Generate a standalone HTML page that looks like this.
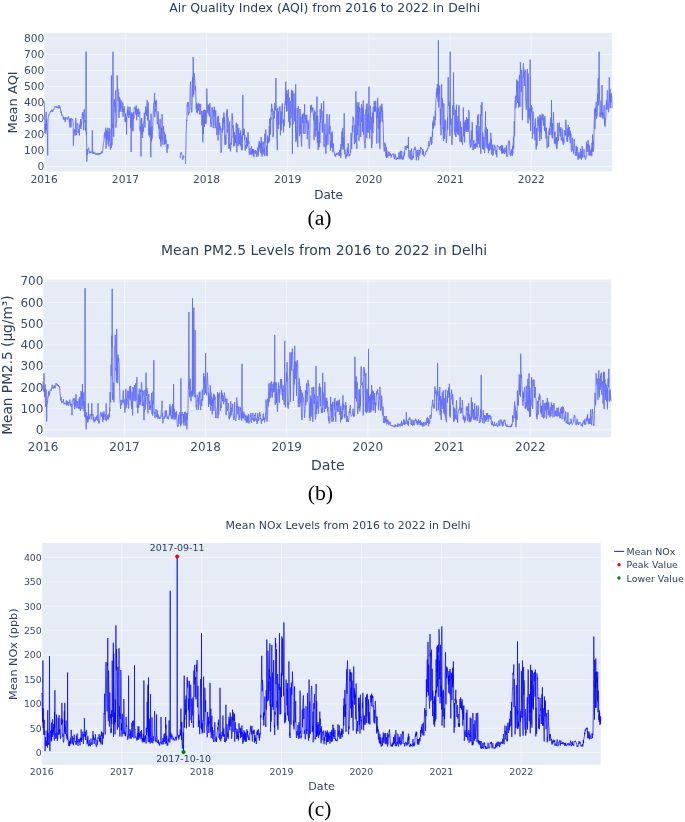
<!DOCTYPE html>
<html><head><meta charset="utf-8"><style>
html,body{margin:0;padding:0;background:#fff;}
svg{display:block;}
</style></head><body>
<svg width="685" height="822" viewBox="0 0 685 822" font-family="'DejaVu Sans', sans-serif">
<rect x="44.1" y="32.9" width="568.10" height="138.60" fill="#e5ecf6"/>
<path d="M44.10 32.9V171.5M125.45 32.9V171.5M206.57 32.9V171.5M287.70 32.9V171.5M368.82 32.9V171.5M450.17 32.9V171.5M531.30 32.9V171.5M44.1 166.50H612.2M44.1 150.51H612.2M44.1 134.52H612.2M44.1 118.53H612.2M44.1 102.54H612.2M44.1 86.55H612.2M44.1 70.56H612.2M44.1 54.57H612.2M44.1 38.58H612.2" stroke="#fff" stroke-opacity="0.5" stroke-width="1" fill="none"/>
<path d="M44.1 100.8L44.3 105.7L44.5 113.4L44.8 120.8L45.0 132.9L45.2 123.6L45.4 131.8L45.7 133.7L45.9 130.5L46.1 111.8L46.3 129.7L46.5 119.1L46.8 122.3L47.0 128.2L47.2 134.2L47.4 134.1L47.7 155.3L47.9 124.2L48.1 118.2L48.3 117.9L48.5 116.5L48.8 114.5L49.0 114.3L49.2 114.6L49.4 114.4L49.7 113.6L49.9 112.3L50.1 112.4L50.3 112.4L50.5 111.4L50.8 112.0L51.0 111.8L51.2 110.6L51.4 110.2L51.7 110.2L51.9 109.7L52.1 112.0L52.3 110.4L52.5 110.9L52.8 111.4L53.0 110.5L53.2 109.2L53.4 109.4L53.7 109.9L53.9 109.3L54.1 108.8L54.3 107.4L54.5 107.0L54.8 107.0L55.0 106.4L55.2 106.7L55.4 107.4L55.7 106.6L55.9 106.1L56.1 106.4L56.3 107.1L56.5 106.7L56.8 108.0L57.0 107.3L57.2 106.7L57.4 107.8L57.7 107.5L57.9 107.9L58.1 106.9L58.3 108.2L58.5 108.3L58.8 107.4L59.0 105.1L59.2 108.2L59.4 108.1L59.7 107.5L59.9 107.8L60.1 106.5L60.3 108.9L60.5 109.2L60.8 111.1L61.0 112.9L61.2 111.4L61.4 112.8L61.7 115.5L61.9 114.0L62.1 114.5L62.3 115.3L62.5 115.7L62.8 116.0L63.0 116.9L63.2 118.3L63.4 119.3L63.7 116.8L63.9 119.4L64.1 119.8L64.3 119.7L64.5 118.6L64.8 117.4L65.0 120.1L65.2 122.1L65.4 121.1L65.7 117.7L65.9 117.2L66.1 117.4L66.3 118.1L66.5 117.9L66.8 118.5L67.0 117.6L67.2 119.6L67.4 118.8L67.7 119.2L67.9 118.2L68.1 118.2L68.3 116.7L68.5 116.6L68.8 116.7L69.0 118.9L69.2 120.5L69.4 122.7L69.7 119.0L69.9 127.4L70.1 120.1L70.3 118.2L70.5 123.1L70.8 126.2L71.0 127.3L71.2 125.4L71.4 119.9L71.7 118.3L71.9 119.4L72.1 119.3L72.3 120.1L72.5 119.4L72.8 120.9L73.0 121.8L73.2 126.5L73.4 145.7L73.7 136.3L73.9 129.9L74.1 129.5L74.3 131.2L74.5 133.2L74.8 129.6L75.0 133.1L75.2 135.6L75.4 130.1L75.7 118.2L75.9 120.7L76.1 125.7L76.3 131.9L76.6 135.0L76.8 129.9L77.0 123.6L77.2 124.5L77.4 123.2L77.7 123.6L77.9 123.7L78.1 132.8L78.3 132.6L78.6 129.4L78.8 132.2L79.0 132.3L79.2 133.9L79.4 135.4L79.7 124.6L79.9 127.3L80.1 127.3L80.3 121.9L80.6 119.9L80.8 119.0L81.0 129.0L81.2 121.7L81.4 125.4L81.7 123.6L81.9 118.9L82.1 115.4L82.3 113.8L82.6 115.6L82.8 112.1L83.0 115.8L83.2 118.8L83.4 115.3L83.7 130.2L83.9 110.5L84.1 110.4L84.3 109.3L84.6 112.8L84.8 119.8L85.0 122.3L85.2 120.2L85.4 130.0L85.7 128.2L85.9 131.3L86.1 51.4L86.3 134.7L86.6 131.9L86.8 161.5L87.0 149.0L87.2 151.9L87.4 154.8L87.7 153.4L87.9 149.6L88.1 149.8L88.3 149.1L88.6 147.7L88.8 148.7L89.0 149.6L89.2 150.8L89.4 153.2L89.7 151.7L89.9 153.2L90.1 152.2L90.3 153.0L90.6 151.3L90.8 151.6L91.0 152.4L91.2 151.9L91.4 152.5L91.7 152.5L91.9 152.3L92.1 152.3L92.3 130.5L92.6 153.1L92.8 152.9L93.0 153.9L93.2 153.6L93.4 153.8L93.7 152.5L93.9 151.7L94.1 153.4L94.3 152.9L94.6 152.9L94.8 153.6L95.0 152.7L95.2 153.2L95.4 154.3L95.7 154.1L95.9 153.9L96.1 154.8L96.3 154.4L96.6 153.5L96.8 153.0L97.0 154.2L97.2 154.6L97.4 154.4L97.7 154.7L97.9 153.1L98.1 153.3L98.3 154.6L98.6 155.2L98.8 155.0L99.0 153.1L99.2 153.8L99.4 154.1L99.7 154.0L99.9 154.4L100.1 153.1L100.3 153.6L100.6 153.1L100.8 153.0L101.0 152.6L101.2 153.7L101.4 151.8L101.7 152.0L101.9 151.2L102.1 152.7L102.3 152.8L102.6 151.5L102.8 149.5L103.0 147.6L103.2 145.1L103.4 143.4L103.7 143.3L103.9 140.7L104.1 139.1L104.3 134.6L104.6 135.3L104.8 132.3L105.0 132.9L105.2 138.3L105.4 134.4L105.7 127.7L105.9 131.9L106.1 148.6L106.3 138.2L106.6 130.2L106.8 144.6L107.0 140.6L107.2 130.9L107.4 139.7L107.7 128.1L107.9 127.8L108.1 135.7L108.3 135.2L108.6 145.8L108.8 146.3L109.0 131.4L109.2 141.7L109.4 128.1L109.7 133.1L109.9 129.4L110.1 133.5L110.3 149.7L110.6 149.3L110.8 143.3L111.0 146.3L111.2 148.0L111.4 75.5L111.7 138.7L111.9 145.5L112.1 143.3L112.3 124.1L112.6 127.9L112.8 107.3L113.0 51.7L113.2 98.3L113.4 120.9L113.7 136.6L113.9 128.3L114.1 106.7L114.3 104.2L114.6 99.5L114.8 107.1L115.0 103.0L115.2 110.3L115.4 112.5L115.7 90.4L115.9 127.7L116.1 123.2L116.3 123.0L116.6 121.3L116.8 108.2L117.0 105.1L117.2 75.5L117.4 81.2L117.7 91.7L117.9 88.9L118.1 90.7L118.3 100.8L118.6 92.2L118.8 102.3L119.0 117.9L119.2 110.2L119.4 111.3L119.7 97.5L119.9 104.1L120.1 111.7L120.3 99.7L120.6 108.9L120.8 107.0L121.0 100.3L121.2 103.2L121.4 106.5L121.7 108.0L121.9 105.9L122.1 112.1L122.3 109.1L122.6 107.5L122.8 102.3L123.0 116.8L123.2 112.7L123.4 108.8L123.7 112.6L123.9 111.1L124.1 111.2L124.3 106.1L124.6 112.4L124.8 113.4L125.0 121.8L125.2 121.9L125.4 113.4L125.7 117.1L125.9 119.3L126.1 122.1L126.3 117.3L126.6 134.5L126.8 121.1L127.0 115.6L127.2 113.7L127.4 109.7L127.7 116.0L127.9 106.4L128.1 107.6L128.3 111.1L128.6 116.2L128.8 118.0L129.0 111.7L129.2 115.0L129.4 109.7L129.7 109.3L129.9 106.9L130.1 107.2L130.3 110.2L130.6 127.6L130.8 120.8L131.0 113.6L131.2 151.9L131.4 112.4L131.7 116.5L131.9 121.1L132.1 129.8L132.3 113.5L132.6 114.0L132.8 118.6L133.0 131.3L133.2 127.7L133.4 112.5L133.7 111.9L133.9 118.4L134.1 110.2L134.3 107.5L134.6 107.2L134.8 107.4L135.0 106.7L135.2 107.6L135.4 107.6L135.7 114.3L135.9 108.1L136.1 109.8L136.3 105.5L136.6 120.2L136.8 113.7L137.0 109.5L137.2 114.1L137.4 112.3L137.7 109.7L137.9 109.2L138.1 115.3L138.3 117.0L138.6 111.4L138.8 108.6L139.0 111.3L139.2 113.4L139.5 114.3L139.7 111.9L139.9 119.8L140.1 131.3L140.3 125.9L140.6 132.9L140.8 133.1L141.0 156.3L141.2 118.7L141.5 130.0L141.7 118.0L141.9 134.5L142.1 123.8L142.3 135.5L142.6 137.9L142.8 127.1L143.0 128.0L143.2 131.8L143.5 131.1L143.7 121.7L143.9 121.0L144.1 120.4L144.3 112.9L144.6 120.1L144.8 124.6L145.0 127.6L145.2 114.0L145.5 109.6L145.7 106.4L145.9 109.9L146.1 114.0L146.3 109.6L146.6 115.8L146.8 110.3L147.0 108.1L147.2 100.1L147.5 119.0L147.7 120.5L147.9 107.2L148.1 102.5L148.3 106.0L148.6 110.1L148.8 135.4L149.0 128.1L149.2 125.2L149.5 134.7L149.7 120.4L149.9 137.2L150.1 134.0L150.3 127.7L150.6 138.2L150.8 157.2L151.0 113.7L151.2 131.3L151.5 141.6L151.7 128.6L151.9 126.4L152.1 138.6L152.3 135.5L152.6 131.2L152.8 128.8L153.0 116.9L153.2 114.9L153.5 105.4L153.7 103.3L153.9 103.8L154.1 102.7L154.3 101.1L154.6 93.1L154.8 117.3L155.0 109.1L155.2 111.9L155.5 100.9L155.7 105.0L155.9 104.5L156.1 106.6L156.3 99.9L156.6 105.2L156.8 114.2L157.0 114.9L157.2 123.5L157.5 122.7L157.7 124.3L157.9 122.9L158.1 111.3L158.3 120.0L158.6 123.7L158.8 128.5L159.0 124.2L159.2 136.1L159.5 139.0L159.7 137.6L159.9 133.2L160.1 118.8L160.3 137.8L160.6 141.7L160.8 136.4L161.0 146.5L161.2 127.7L161.5 129.6L161.7 129.1L161.9 138.6L162.1 114.2L162.3 140.5L162.6 137.2L162.8 137.5L163.0 144.9L163.2 134.6L163.5 126.0L163.7 131.8L163.9 132.3L164.1 133.6L164.3 131.9L164.6 144.5L164.8 133.9L165.0 139.9L165.2 134.4L165.5 137.3L165.7 142.1L165.9 143.8L166.1 139.7L166.3 146.2L166.6 147.7L166.8 149.1L167.0 152.9L167.2 146.9L167.5 145.1L167.7 146.7L167.9 144.1L168.1 149.0M180.1 158.3L180.3 154.9L180.6 153.0L180.8 153.4L181.0 153.5L181.2 152.3L181.5 152.3L181.7 154.2L181.9 154.9L182.1 155.8L182.3 156.4L182.6 159.8L182.8 157.8L183.0 158.5L183.2 157.6L183.5 157.6L183.7 155.5L183.9 157.6M185.5 164.0L185.7 155.6L185.9 148.2L186.1 136.8L186.3 130.5L186.6 119.9L186.8 120.9L187.0 117.2L187.2 103.8L187.5 102.8L187.7 103.0L187.9 106.9L188.1 102.0L188.3 112.8L188.6 115.3L188.8 111.9L189.0 112.9L189.2 112.9L189.5 109.7L189.7 107.9L189.9 107.2L190.1 90.0L190.3 85.6L190.6 81.7L190.8 86.9L191.0 98.4L191.2 109.1L191.5 108.3L191.7 112.3L191.9 111.2L192.1 105.2L192.3 82.4L192.6 77.1L192.8 97.1L193.0 89.7L193.2 57.0L193.5 88.9L193.7 94.6L193.9 85.1L194.1 73.0L194.3 76.0L194.6 75.9L194.8 80.7L195.0 89.6L195.2 90.5L195.5 85.8L195.7 93.9L195.9 97.7L196.1 109.3L196.3 108.7L196.6 102.8L196.8 112.2L197.0 108.2L197.2 113.3L197.5 109.3L197.7 104.9L197.9 103.8L198.1 104.1L198.3 110.7L198.6 103.1L198.8 104.6L199.0 106.1L199.2 104.3L199.5 114.3L199.7 112.4L199.9 111.3L200.1 108.1L200.3 103.9L200.6 104.2L200.8 114.0L201.0 114.7L201.2 112.4L201.5 111.2L201.7 119.9L201.9 125.3L202.1 119.8L202.4 115.2L202.6 115.4L202.8 142.2L203.0 110.8L203.2 134.1L203.5 132.9L203.7 110.2L203.9 114.7L204.1 114.0L204.4 127.0L204.6 109.8L204.8 124.2L205.0 117.4L205.2 114.1L205.5 123.6L205.7 110.4L205.9 123.3L206.1 123.5L206.4 118.4L206.6 117.9L206.8 88.6L207.0 101.0L207.2 105.2L207.5 109.8L207.7 112.3L207.9 113.2L208.1 104.5L208.4 107.7L208.6 105.0L208.8 107.4L209.0 115.1L209.2 106.5L209.5 116.3L209.7 114.4L209.9 103.2L210.1 114.6L210.4 114.4L210.6 123.9L210.8 123.5L211.0 126.9L211.2 125.2L211.5 124.6L211.7 120.5L211.9 107.7L212.1 108.7L212.4 107.3L212.6 110.7L212.8 114.5L213.0 121.1L213.2 128.1L213.5 124.6L213.7 110.5L213.9 109.9L214.1 116.6L214.4 106.8L214.6 113.3L214.8 119.7L215.0 126.3L215.2 128.2L215.5 126.4L215.7 110.4L215.9 115.4L216.1 125.1L216.4 127.9L216.6 127.3L216.8 135.0L217.0 131.2L217.2 122.4L217.5 120.1L217.7 116.6L217.9 131.3L218.1 140.5L218.4 124.9L218.6 115.9L218.8 134.7L219.0 129.7L219.2 128.5L219.5 122.7L219.7 122.9L219.9 130.6L220.1 127.5L220.4 126.2L220.6 127.5L220.8 146.2L221.0 152.7L221.2 151.6L221.5 152.2L221.7 146.7L221.9 133.5L222.1 128.3L222.4 132.8L222.6 130.3L222.8 118.4L223.0 129.5L223.2 120.1L223.5 117.3L223.7 119.1L223.9 112.5L224.1 123.5L224.4 117.2L224.6 130.9L224.8 138.7L225.0 144.8L225.2 134.8L225.5 142.2L225.7 136.9L225.9 144.7L226.1 127.6L226.4 113.3L226.6 116.5L226.8 111.2L227.0 112.9L227.2 109.2L227.5 112.6L227.7 132.7L227.9 117.3L228.1 122.8L228.4 136.7L228.6 140.8L228.8 148.8L229.0 144.7L229.2 147.6L229.5 126.7L229.7 121.5L229.9 142.0L230.1 148.7L230.4 147.1L230.6 151.4L230.8 147.5L231.0 142.6L231.2 144.8L231.5 144.4L231.7 134.5L231.9 119.1L232.1 113.4L232.4 118.1L232.6 116.3L232.8 128.2L233.0 125.3L233.2 137.9L233.5 127.8L233.7 142.1L233.9 146.4L234.1 141.8L234.4 132.5L234.6 146.0L234.8 145.8L235.0 140.2L235.2 135.1L235.5 142.7L235.7 138.4L235.9 139.3L236.1 123.5L236.4 122.7L236.6 140.2L236.8 152.2L237.0 147.1L237.2 131.2L237.5 130.9L237.7 124.2L237.9 133.1L238.1 146.1L238.4 135.3L238.6 134.4L238.8 128.0L239.0 144.1L239.2 139.4L239.5 143.6L239.7 133.0L239.9 139.9L240.1 143.8L240.4 145.7L240.6 130.4L240.8 132.7L241.0 141.6L241.2 147.6L241.5 150.2L241.7 135.5L241.9 149.3L242.1 150.2L242.4 143.6L242.6 134.2L242.8 94.9L243.0 135.2L243.2 133.4L243.5 131.5L243.7 134.9L243.9 128.8L244.1 132.6L244.4 129.8L244.6 140.0L244.8 135.0L245.0 145.9L245.2 150.6L245.5 146.3L245.7 148.7L245.9 144.8L246.1 148.9L246.4 137.3L246.6 139.7L246.8 147.5L247.0 145.4L247.2 138.8L247.5 145.8L247.7 141.7L247.9 132.0L248.1 132.7L248.4 136.8L248.6 143.9L248.8 141.4L249.0 150.5L249.2 154.6L249.5 154.4L249.7 154.6L249.9 148.1L250.1 148.1L250.4 154.0L250.6 154.3L250.8 152.1L251.0 154.0L251.2 154.6L251.5 146.2L251.7 153.6L251.9 153.5L252.1 153.3L252.4 150.5L252.6 149.2L252.8 153.7L253.0 149.2L253.2 155.9L253.5 149.4L253.7 151.8L253.9 157.2L254.1 151.8L254.4 152.1L254.6 150.7L254.8 150.4L255.0 153.8L255.2 153.8L255.5 151.5L255.7 150.2L255.9 151.9L256.1 153.1L256.4 153.4L256.6 155.6L256.8 156.8L257.0 150.7L257.2 152.9L257.5 152.0L257.7 154.3L257.9 147.5L258.1 156.4L258.4 145.7L258.6 145.0L258.8 151.4L259.0 142.3L259.2 141.2L259.5 148.5L259.7 142.1L259.9 142.7L260.1 142.9L260.4 143.5L260.6 150.8L260.8 153.2L261.0 148.4L261.2 137.0L261.5 154.2L261.7 141.3L261.9 156.7L262.1 156.6L262.4 153.9L262.6 148.9L262.8 143.2L263.0 144.3L263.2 141.7L263.5 153.5L263.7 153.9L263.9 154.4L264.1 152.8L264.4 147.7L264.6 156.1L264.8 133.8L265.0 143.2L265.3 140.0L265.5 133.6L265.7 129.6L265.9 130.6L266.1 155.1L266.4 155.6L266.6 145.7L266.8 149.9L267.0 152.6L267.3 156.1L267.5 144.1L267.7 135.7L267.9 142.7L268.1 140.1L268.4 138.1L268.6 143.1L268.8 140.3L269.0 133.9L269.3 125.9L269.5 141.4L269.7 118.7L269.9 124.0L270.1 119.7L270.4 125.5L270.6 134.5L270.8 117.2L271.0 119.9L271.3 109.9L271.5 111.4L271.7 103.8L271.9 110.9L272.1 108.8L272.4 110.2L272.6 108.9L272.8 117.1L273.0 137.1L273.3 133.1L273.5 135.2L273.7 115.7L273.9 110.9L274.1 118.7L274.4 114.8L274.6 105.4L274.8 103.2L275.0 104.2L275.3 104.6L275.5 108.3L275.7 110.3L275.9 78.1L276.1 110.0L276.4 109.3L276.6 124.0L276.8 136.5L277.0 139.2L277.3 150.2L277.5 112.6L277.7 107.9L277.9 116.0L278.1 128.9L278.4 115.5L278.6 111.7L278.8 124.7L279.0 111.5L279.3 111.3L279.5 106.9L279.7 107.6L279.9 106.4L280.1 107.3L280.4 135.2L280.6 116.5L280.8 122.0L281.0 111.4L281.3 121.4L281.5 130.3L281.7 118.6L281.9 108.6L282.1 104.3L282.4 103.4L282.6 114.6L282.8 121.2L283.0 123.4L283.3 119.7L283.5 132.4L283.7 127.4L283.9 119.8L284.1 126.0L284.4 120.2L284.6 107.4L284.8 108.3L285.0 102.5L285.3 99.6L285.5 100.0L285.7 81.8L285.9 105.3L286.1 97.3L286.4 103.7L286.6 111.7L286.8 90.3L287.0 110.7L287.3 103.1L287.5 93.9L287.7 96.0L287.9 97.0L288.1 91.2L288.4 89.7L288.6 110.8L288.8 121.8L289.0 99.8L289.3 97.4L289.5 123.3L289.7 127.9L289.9 121.3L290.1 125.3L290.4 112.6L290.6 108.0L290.8 100.9L291.0 118.2L291.3 103.8L291.5 89.8L291.7 100.7L291.9 92.3L292.1 90.7L292.4 153.7L292.6 96.2L292.8 90.8L293.0 124.1L293.3 105.1L293.5 97.7L293.7 93.5L293.9 93.3L294.1 93.7L294.4 101.9L294.6 121.4L294.8 114.4L295.0 108.4L295.3 109.8L295.5 132.7L295.7 84.3L295.9 141.9L296.1 133.3L296.4 139.6L296.6 134.9L296.8 124.7L297.0 121.0L297.3 108.1L297.5 125.7L297.7 147.2L297.9 129.5L298.1 112.0L298.4 106.0L298.6 108.9L298.8 109.4L299.0 112.9L299.3 132.6L299.5 136.2L299.7 124.2L299.9 131.7L300.1 109.0L300.4 131.6L300.6 134.0L300.8 116.4L301.0 126.1L301.3 139.4L301.5 146.4L301.7 145.6L301.9 119.6L302.1 116.6L302.4 114.0L302.6 122.9L302.8 114.2L303.0 116.4L303.3 130.5L303.5 133.6L303.7 126.5L303.9 112.8L304.1 117.1L304.4 114.4L304.6 104.4L304.8 115.4L305.0 133.9L305.3 117.6L305.5 115.2L305.7 119.1L305.9 117.8L306.1 123.2L306.4 117.5L306.6 123.0L306.8 114.7L307.0 132.4L307.3 139.2L307.5 131.3L307.7 134.3L307.9 120.2L308.1 121.3L308.4 129.3L308.6 122.8L308.8 130.5L309.0 146.1L309.3 148.9L309.5 148.3L309.7 145.2L309.9 136.0L310.1 118.2L310.4 114.5L310.6 106.2L310.8 105.1L311.0 110.1L311.3 105.4L311.5 104.9L311.7 111.4L311.9 112.4L312.1 108.0L312.4 110.5L312.6 107.5L312.8 109.1L313.0 108.4L313.3 115.2L313.5 114.1L313.7 120.4L313.9 114.3L314.1 139.9L314.4 127.6L314.6 111.9L314.8 110.5L315.0 114.6L315.3 112.3L315.5 125.5L315.7 136.7L315.9 136.1L316.1 132.7L316.4 116.0L316.6 130.5L316.8 114.8L317.0 96.6L317.3 143.0L317.5 136.0L317.7 115.4L317.9 125.6L318.1 149.9L318.4 136.6L318.6 131.6L318.8 142.8L319.0 147.3L319.3 146.8L319.5 137.8L319.7 122.7L319.9 143.2L320.1 109.2L320.4 114.6L320.6 122.7L320.8 115.6L321.0 117.8L321.3 103.4L321.5 103.4L321.7 111.3L321.9 120.7L322.1 129.3L322.4 132.7L322.6 121.1L322.8 131.8L323.0 111.0L323.3 117.2L323.5 122.6L323.7 100.9L323.9 143.3L324.1 147.2L324.4 133.0L324.6 130.7L324.8 129.7L325.0 123.7L325.3 133.7L325.5 134.0L325.7 147.0L325.9 153.7L326.1 135.2L326.4 143.9L326.6 146.2L326.8 124.2L327.0 114.0L327.3 127.8L327.5 136.1L327.7 135.8L327.9 144.7L328.2 134.7L328.4 132.7L328.6 131.9L328.8 124.8L329.0 117.4L329.3 115.1L329.5 114.4L329.7 134.4L329.9 125.9L330.2 141.8L330.4 150.8L330.6 140.7L330.8 145.7L331.0 145.6L331.3 132.7L331.5 142.0L331.7 147.9L331.9 142.6L332.2 131.6L332.4 133.5L332.6 149.7L332.8 152.2L333.0 151.9L333.3 143.6L333.5 145.8L333.7 148.6L333.9 151.5L334.2 153.6L334.4 153.6L334.6 153.5L334.8 155.8L335.0 155.6L335.3 154.6L335.5 156.6L335.7 154.8L335.9 153.8L336.2 153.1L336.4 155.0L336.6 154.9L336.8 153.1L337.0 153.0L337.3 154.9L337.5 154.7L337.7 153.1L337.9 153.9L338.2 153.9L338.4 152.2L338.6 152.9L338.8 153.8L339.0 155.9L339.3 156.1L339.5 150.2L339.7 150.6L339.9 154.6L340.2 155.5L340.4 153.4L340.6 147.2L340.8 157.8L341.0 143.9L341.3 148.5L341.5 143.5L341.7 137.0L341.9 131.4L342.2 142.2L342.4 146.1L342.6 140.1L342.8 127.9L343.0 149.9L343.3 145.3L343.5 137.4L343.7 143.0L343.9 148.2L344.2 113.3L344.4 154.0L344.6 154.1L344.8 151.4L345.0 149.5L345.3 155.2L345.5 155.2L345.7 158.7L345.9 155.1L346.2 155.8L346.4 153.9L346.6 156.7L346.8 155.6L347.0 153.2L347.3 147.6L347.5 155.6L347.7 151.1L347.9 153.0L348.2 143.4L348.4 153.3L348.6 154.3L348.8 154.9L349.0 156.4L349.3 154.8L349.5 154.3L349.7 154.6L349.9 155.3L350.2 154.0L350.4 149.5L350.6 152.7L350.8 140.8L351.0 132.9L351.3 133.9L351.5 141.7L351.7 148.9L351.9 140.1L352.2 134.8L352.4 125.6L352.6 130.7L352.8 131.9L353.0 116.7L353.3 118.9L353.5 120.7L353.7 118.6L353.9 122.7L354.2 125.6L354.4 144.0L354.6 144.2L354.8 125.0L355.0 136.7L355.3 142.5L355.5 130.5L355.7 127.2L355.9 91.3L356.2 131.5L356.4 141.7L356.6 142.6L356.8 148.8L357.0 102.2L357.3 135.1L357.5 126.4L357.7 116.4L357.9 105.7L358.2 109.7L358.4 122.8L358.6 125.5L358.8 102.3L359.0 140.8L359.3 107.0L359.5 111.3L359.7 110.4L359.9 108.2L360.2 111.1L360.4 114.5L360.6 128.9L360.8 137.0L361.0 122.5L361.3 110.3L361.5 104.4L361.7 107.9L361.9 122.0L362.2 111.2L362.4 107.4L362.6 132.1L362.8 113.0L363.0 108.7L363.3 100.3L363.5 113.7L363.7 134.6L363.9 114.2L364.2 140.5L364.4 140.6L364.6 143.4L364.8 144.3L365.0 148.2L365.3 143.4L365.5 120.8L365.7 112.4L365.9 109.6L366.2 114.6L366.4 104.1L366.6 104.2L366.8 138.3L367.0 103.5L367.3 113.6L367.5 132.1L367.7 120.1L367.9 114.6L368.2 132.8L368.4 123.5L368.6 106.2L368.8 104.7L369.0 86.6L369.3 117.7L369.5 128.2L369.7 138.7L369.9 129.0L370.2 107.2L370.4 105.7L370.6 109.6L370.8 129.3L371.0 116.7L371.3 120.6L371.5 143.3L371.7 148.1L371.9 143.8L372.2 144.1L372.4 112.6L372.6 113.9L372.8 131.0L373.0 132.9L373.3 106.9L373.5 123.1L373.7 111.3L373.9 109.3L374.2 101.1L374.4 102.7L374.6 111.4L374.8 108.9L375.0 111.8L375.3 105.8L375.5 110.8L375.7 100.8L375.9 106.3L376.2 107.1L376.4 117.6L376.6 116.8L376.8 143.4L377.0 116.2L377.3 108.8L377.5 118.0L377.7 97.8L377.9 112.7L378.2 118.3L378.4 128.5L378.6 111.5L378.8 107.6L379.0 142.8L379.3 139.6L379.5 121.6L379.7 112.0L379.9 148.7L380.2 105.8L380.4 118.9L380.6 122.6L380.8 120.1L381.0 120.4L381.3 111.9L381.5 106.1L381.7 111.5L381.9 103.7L382.2 115.7L382.4 121.7L382.6 110.8L382.8 119.2L383.0 119.9L383.3 131.9L383.5 140.4L383.7 145.5L383.9 147.8L384.2 151.4L384.4 151.1L384.6 146.8L384.8 142.6L385.0 145.4L385.3 145.0L385.5 144.4L385.7 152.0L385.9 156.5L386.2 149.6L386.4 147.2L386.6 158.0L386.8 150.1L387.0 153.9L387.3 156.9L387.5 155.0L387.7 157.4L387.9 154.2L388.2 155.8L388.4 154.4L388.6 151.9L388.8 151.5L389.0 152.5L389.3 152.3L389.5 154.5L389.7 155.9L389.9 154.8L390.2 153.4L390.4 154.8L390.6 154.4L390.8 154.8L391.0 157.6L391.3 157.2L391.5 154.6L391.7 155.3L391.9 155.2L392.2 154.7L392.4 154.0L392.6 154.7L392.8 154.0L393.1 153.7L393.3 153.6L393.5 154.5L393.7 155.8L393.9 157.5L394.2 158.6L394.4 159.0L394.6 156.1L394.8 154.2L395.1 153.8L395.3 154.7L395.5 157.6L395.7 157.7L395.9 158.9L396.2 160.0L396.4 158.9L396.6 157.8L396.8 158.0L397.1 159.1L397.3 159.1L397.5 158.4L397.7 158.6L397.9 157.3L398.2 159.0L398.4 157.6L398.6 155.9L398.8 153.4L399.1 152.4L399.3 153.1L399.5 155.7L399.7 159.3L399.9 158.2L400.2 153.6L400.4 150.8L400.6 158.5L400.8 158.9L401.1 158.5L401.3 159.2L401.5 157.8L401.7 151.1L401.9 157.6L402.2 156.9L402.4 159.3L402.6 159.6L402.8 159.6L403.1 156.5L403.3 159.3L403.5 158.5L403.7 155.5L403.9 155.6L404.2 151.6L404.4 155.9L404.6 153.8L404.8 150.3L405.1 146.1L405.3 146.7L405.5 146.1L405.7 148.1L405.9 150.1L406.2 147.0L406.4 147.7L406.6 146.5L406.8 147.0L407.1 145.6L407.3 145.2L407.5 147.9L407.7 146.0L407.9 147.1L408.2 148.0L408.4 136.9L408.6 149.4L408.8 156.2L409.1 157.6L409.3 158.4L409.5 156.6L409.7 152.1L409.9 150.1L410.2 150.4L410.4 155.0L410.6 159.0L410.8 156.9L411.1 160.2L411.3 154.1L411.5 148.7L411.7 151.6L411.9 153.9L412.2 159.5L412.4 157.1L412.6 156.5L412.8 157.7L413.1 155.8L413.3 158.0L413.5 158.2L413.7 150.0L413.9 149.2L414.2 148.4L414.4 148.3L414.6 148.6L414.8 150.0L415.1 146.7L415.3 148.7L415.5 148.6L415.7 151.4L415.9 154.4L416.2 159.7L416.4 160.3L416.6 156.4L416.8 150.3L417.1 153.8L417.3 154.5L417.5 152.2L417.7 156.7L417.9 149.8L418.2 155.7L418.4 157.3L418.6 160.3L418.8 156.4L419.1 155.7L419.3 149.8L419.5 155.5L419.7 154.0L419.9 154.1L420.2 153.7L420.4 148.3L420.6 147.1L420.8 147.2L421.1 149.2L421.3 148.8L421.5 148.0L421.7 148.6L421.9 149.1L422.2 149.6L422.4 154.5L422.6 153.6L422.8 149.1L423.1 154.3L423.3 154.0L423.5 151.2L423.7 155.8L423.9 155.3L424.2 156.5L424.4 156.0L424.6 156.0L424.8 155.6L425.1 154.8L425.3 154.0L425.5 153.2L425.7 154.2L425.9 151.2L426.2 151.1L426.4 152.0L426.6 151.7L426.8 150.2L427.1 150.8L427.3 150.3L427.5 149.9L427.7 148.1L427.9 148.7L428.2 147.1L428.4 145.2L428.6 146.1L428.8 141.0L429.1 142.3L429.3 146.2L429.5 144.9L429.7 144.2L429.9 144.0L430.2 142.7L430.4 136.8L430.6 137.7L430.8 137.9L431.1 139.9L431.3 137.0L431.5 144.9L431.7 141.1L431.9 142.9L432.2 137.1L432.4 131.6L432.6 136.9L432.8 122.5L433.1 128.7L433.3 120.5L433.5 128.3L433.7 127.2L433.9 116.4L434.2 119.3L434.4 120.2L434.6 121.1L434.8 125.7L435.1 119.2L435.3 111.1L435.5 119.8L435.7 113.0L435.9 99.3L436.2 97.9L436.4 92.4L436.6 97.1L436.8 88.5L437.1 94.8L437.3 84.0L437.5 87.9L437.7 94.0L437.9 100.4L438.2 101.7L438.4 40.3L438.6 107.4L438.8 107.0L439.1 94.4L439.3 87.8L439.5 94.0L439.7 85.5L439.9 100.4L440.2 115.8L440.4 124.6L440.6 108.5L440.8 128.3L441.1 135.1L441.3 106.7L441.5 87.4L441.7 84.5L441.9 107.4L442.2 107.3L442.4 98.3L442.6 101.6L442.8 129.2L443.1 127.6L443.3 139.4L443.5 141.1L443.7 106.8L443.9 103.4L444.2 127.4L444.4 138.9L444.6 127.4L444.8 131.6L445.1 119.6L445.3 127.8L445.5 126.9L445.7 120.6L445.9 132.6L446.2 142.5L446.4 143.0L446.6 141.5L446.8 137.1L447.1 131.7L447.3 127.8L447.5 117.7L447.7 129.6L447.9 109.5L448.2 77.3L448.4 102.2L448.6 105.9L448.8 101.6L449.1 102.6L449.3 106.3L449.5 112.5L449.7 124.1L449.9 136.0L450.2 51.7L450.4 108.5L450.6 124.8L450.8 123.6L451.1 118.7L451.3 125.0L451.5 132.7L451.7 132.7L451.9 144.8L452.2 139.0L452.4 135.8L452.6 107.4L452.8 105.3L453.1 112.5L453.3 115.1L453.5 72.5L453.7 101.7L453.9 104.9L454.2 110.3L454.4 131.4L454.6 131.3L454.8 129.1L455.1 134.9L455.3 109.8L455.5 136.1L455.7 131.8L456.0 137.0L456.2 115.6L456.4 104.7L456.6 123.1L456.8 132.1L457.1 125.9L457.3 121.2L457.5 126.5L457.7 134.1L458.0 116.1L458.2 131.5L458.4 134.7L458.6 114.0L458.8 105.1L459.1 105.4L459.3 118.6L459.5 130.8L459.7 137.5L460.0 141.8L460.2 139.9L460.4 122.1L460.6 121.6L460.8 131.9L461.1 137.1L461.3 141.6L461.5 127.2L461.7 142.2L462.0 136.6L462.2 142.3L462.4 143.2L462.6 144.6L462.8 135.5L463.1 133.9L463.3 107.7L463.5 124.6L463.7 136.4L464.0 128.9L464.2 122.4L464.4 128.9L464.6 142.4L464.8 126.8L465.1 121.2L465.3 120.0L465.5 130.6L465.7 122.9L466.0 131.6L466.2 130.6L466.4 131.9L466.6 117.2L466.8 127.9L467.1 131.9L467.3 118.8L467.5 120.6L467.7 124.7L468.0 129.9L468.2 119.3L468.4 131.5L468.6 126.5L468.8 110.2L469.1 113.7L469.3 129.6L469.5 140.5L469.7 140.8L470.0 143.7L470.2 147.2L470.4 146.9L470.6 147.7L470.8 139.7L471.1 146.5L471.3 130.5L471.5 139.9L471.7 138.0L472.0 130.7L472.2 122.2L472.4 125.3L472.6 140.0L472.8 149.7L473.1 149.1L473.3 150.1L473.5 149.0L473.7 140.2L474.0 140.6L474.2 143.4L474.4 147.3L474.6 145.8L474.8 144.0L475.1 149.0L475.3 144.3L475.5 147.5L475.7 143.1L476.0 143.9L476.2 147.1L476.4 125.1L476.6 130.1L476.8 135.0L477.1 131.0L477.3 147.4L477.5 116.1L477.7 121.5L478.0 124.0L478.2 114.2L478.4 140.9L478.6 134.4L478.8 144.1L479.1 126.1L479.3 138.9L479.5 140.1L479.7 147.5L480.0 144.8L480.2 134.3L480.4 114.2L480.6 141.3L480.8 153.7L481.1 104.9L481.3 106.0L481.5 113.3L481.7 115.3L482.0 101.9L482.2 130.4L482.4 132.0L482.6 149.1L482.8 132.7L483.1 143.8L483.3 149.5L483.5 143.0L483.7 136.9L484.0 143.6L484.2 143.3L484.4 150.4L484.6 153.1L484.8 145.0L485.1 127.3L485.3 127.3L485.5 111.5L485.7 139.0L486.0 142.0L486.2 147.5L486.4 127.4L486.6 140.2L486.8 135.8L487.1 138.5L487.3 148.6L487.5 129.1L487.7 138.3L488.0 145.5L488.2 143.9L488.4 153.2L488.6 146.4L488.8 149.6L489.1 145.1L489.3 144.7L489.5 150.6L489.7 143.1L490.0 142.3L490.2 149.6L490.4 146.7L490.6 143.3L490.8 132.8L491.1 143.6L491.3 138.9L491.5 143.0L491.7 154.6L492.0 145.6L492.2 147.3L492.4 144.5L492.6 152.0L492.8 155.8L493.1 154.3L493.3 153.9L493.5 152.2L493.7 148.7L494.0 150.4L494.2 144.7L494.4 147.2L494.6 148.2L494.8 146.0L495.1 146.0L495.3 148.4L495.5 149.3L495.7 152.8L496.0 154.2L496.2 153.0L496.4 149.9L496.6 152.0L496.8 157.3L497.1 146.1L497.3 145.3L497.5 146.3L497.7 146.1L498.0 146.5L498.2 146.5L498.4 146.5L498.6 146.9L498.8 146.7L499.1 147.7L499.3 149.8L499.5 149.7L499.7 148.9L500.0 146.9L500.2 147.5L500.4 147.2L500.6 146.0L500.8 149.7L501.1 151.2L501.3 145.5L501.5 149.8L501.7 153.5L502.0 149.0L502.2 145.2L502.4 153.5L502.6 145.8L502.8 152.2L503.1 151.6L503.3 153.2L503.5 151.8L503.7 148.8L504.0 152.4L504.2 151.9L504.4 151.7L504.6 154.0L504.8 147.9L505.1 147.7L505.3 150.0L505.5 152.2L505.7 152.3L506.0 150.8L506.2 152.0L506.4 145.1L506.6 155.3L506.8 156.6L507.1 155.7L507.3 156.6L507.5 155.3L507.7 155.0L508.0 151.6L508.2 149.1L508.4 143.1L508.6 142.0L508.8 140.7L509.1 141.5L509.3 140.9L509.5 141.7L509.7 146.8L510.0 152.9L510.2 154.9L510.4 151.8L510.6 156.2L510.8 154.2L511.1 154.6L511.3 150.6L511.5 149.3L511.7 152.2L512.0 151.2L512.2 155.9L512.4 152.3L512.6 146.3L512.8 154.0L513.1 143.6L513.3 141.9L513.5 136.7L513.7 149.1L514.0 136.5L514.2 121.3L514.4 123.2L514.6 136.4L514.8 119.0L515.1 100.8L515.3 101.5L515.5 95.8L515.7 108.3L516.0 106.6L516.2 101.6L516.4 101.1L516.6 85.7L516.8 79.6L517.1 90.6L517.3 82.5L517.5 103.1L517.7 93.5L518.0 81.0L518.2 93.5L518.4 98.6L518.6 107.6L518.9 101.3L519.1 106.4L519.3 77.2L519.5 75.1L519.7 84.4L520.0 106.9L520.2 74.3L520.4 62.2L520.6 71.1L520.9 75.6L521.1 79.5L521.3 92.1L521.5 69.9L521.7 74.7L522.0 76.8L522.2 107.1L522.4 120.1L522.6 109.7L522.9 94.4L523.1 71.3L523.3 64.9L523.5 63.4L523.7 78.0L524.0 72.4L524.2 71.4L524.4 86.0L524.6 78.0L524.9 77.7L525.1 69.6L525.3 77.3L525.5 87.6L525.7 100.4L526.0 103.9L526.2 109.7L526.4 108.9L526.6 98.2L526.9 89.1L527.1 73.1L527.3 69.1L527.5 70.4L527.7 97.6L528.0 123.3L528.2 73.6L528.4 103.2L528.6 112.6L528.9 115.6L529.1 117.6L529.3 114.2L529.5 116.3L529.7 108.4L530.0 120.4L530.2 59.7L530.4 121.7L530.6 130.8L530.9 107.2L531.1 108.8L531.3 105.1L531.5 112.7L531.7 107.7L532.0 107.2L532.2 113.6L532.4 138.6L532.6 121.8L532.9 118.0L533.1 111.6L533.3 121.5L533.5 122.4L533.7 122.5L534.0 133.9L534.2 131.4L534.4 126.3L534.6 133.0L534.9 140.4L535.1 119.4L535.3 118.5L535.5 123.9L535.7 129.7L536.0 148.6L536.2 149.5L536.4 146.1L536.6 128.1L536.9 145.8L537.1 145.3L537.3 122.5L537.5 120.1L537.7 120.4L538.0 116.4L538.2 121.2L538.4 125.7L538.6 121.3L538.9 118.4L539.1 131.5L539.3 118.6L539.5 138.2L539.7 141.0L540.0 114.7L540.2 121.9L540.4 119.8L540.6 132.2L540.9 116.0L541.1 139.2L541.3 139.1L541.5 128.9L541.7 116.7L542.0 116.0L542.2 113.8L542.4 120.2L542.6 115.3L542.9 116.4L543.1 114.5L543.3 120.8L543.5 125.9L543.7 118.1L544.0 118.5L544.2 121.6L544.4 130.2L544.6 131.0L544.9 116.0L545.1 122.8L545.3 129.9L545.5 133.1L545.7 128.4L546.0 138.7L546.2 127.7L546.4 128.9L546.6 130.7L546.9 146.6L547.1 148.2L547.3 147.8L547.5 146.4L547.7 146.9L548.0 140.4L548.2 135.9L548.4 136.4L548.6 146.7L548.9 131.6L549.1 134.0L549.3 128.1L549.5 135.1L549.7 133.7L550.0 127.2L550.2 127.0L550.4 122.3L550.6 126.8L550.9 117.4L551.1 133.6L551.3 135.0L551.5 100.1L551.7 123.6L552.0 126.3L552.2 137.9L552.4 123.0L552.6 138.4L552.9 130.1L553.1 126.3L553.3 118.3L553.5 112.2L553.7 122.2L554.0 131.9L554.2 133.3L554.4 143.5L554.6 132.5L554.9 135.1L555.1 131.6L555.3 141.1L555.5 137.6L555.7 144.2L556.0 138.4L556.2 144.4L556.4 147.3L556.6 137.3L556.9 149.1L557.1 141.4L557.3 140.3L557.5 143.5L557.7 122.9L558.0 126.3L558.2 138.9L558.4 141.0L558.6 134.8L558.9 135.8L559.1 125.9L559.3 122.7L559.5 131.1L559.7 131.5L560.0 127.7L560.2 132.7L560.4 136.3L560.6 128.6L560.9 127.2L561.1 139.2L561.3 140.2L561.5 140.0L561.7 138.2L562.0 140.3L562.2 128.6L562.4 137.1L562.6 141.5L562.9 137.5L563.1 144.8L563.3 144.8L563.5 139.2L563.7 143.1L564.0 143.4L564.2 134.0L564.4 130.4L564.6 131.1L564.9 130.1L565.1 136.1L565.3 132.9L565.5 134.4L565.7 119.8L566.0 121.2L566.2 127.0L566.4 129.7L566.6 130.7L566.9 140.2L567.1 141.8L567.3 128.6L567.5 139.9L567.7 141.4L568.0 133.0L568.2 125.0L568.4 136.9L568.6 127.7L568.9 134.6L569.1 127.0L569.3 128.9L569.5 135.4L569.7 133.3L570.0 133.5L570.2 143.2L570.4 130.8L570.6 137.2L570.9 133.7L571.1 140.9L571.3 150.5L571.5 151.7L571.7 150.3L572.0 146.7L572.2 137.6L572.4 140.8L572.6 145.3L572.9 150.6L573.1 149.9L573.3 148.5L573.5 153.6L573.7 149.0L574.0 143.3L574.2 138.9L574.4 145.2L574.6 147.0L574.9 148.3L575.1 153.6L575.3 154.8L575.5 155.7L575.7 153.1L576.0 151.2L576.2 145.8L576.4 150.0L576.6 155.7L576.9 153.3L577.1 151.8L577.3 149.6L577.5 147.0L577.7 151.7L578.0 159.7L578.2 155.1L578.4 154.1L578.6 157.8L578.9 152.8L579.1 152.3L579.3 157.4L579.5 157.9L579.7 156.0L580.0 158.4L580.2 158.8L580.4 148.8L580.6 149.7L580.9 154.5L581.1 157.4L581.3 151.1L581.5 159.6L581.8 158.8L582.0 155.7L582.2 146.1L582.4 154.3L582.6 157.5L582.9 156.5L583.1 155.7L583.3 155.2L583.5 154.3L583.8 154.1L584.0 149.3L584.2 157.2L584.4 155.0L584.6 155.4L584.9 155.6L585.1 158.4L585.3 159.4L585.5 159.4L585.8 157.7L586.0 157.6L586.2 157.1L586.4 143.0L586.6 141.8L586.9 146.0L587.1 151.9L587.3 144.2L587.5 151.6L587.8 144.5L588.0 143.8L588.2 140.1L588.4 148.4L588.6 144.3L588.9 155.3L589.1 154.6L589.3 148.4L589.5 145.5L589.8 155.8L590.0 151.8L590.2 149.6L590.4 150.8L590.6 154.0L590.9 154.1L591.1 155.1L591.3 150.0L591.5 147.9L591.8 156.1L592.0 142.7L592.2 151.9L592.4 149.3L592.6 134.6L592.9 144.9L593.1 141.5L593.3 147.8L593.5 151.5L593.8 145.4L594.0 132.6L594.2 123.9L594.4 119.0L594.6 109.2L594.9 129.0L595.1 115.4L595.3 107.6L595.5 110.7L595.8 110.9L596.0 116.4L596.2 101.9L596.4 112.4L596.6 118.7L596.9 115.3L597.1 115.6L597.3 112.9L597.5 93.7L597.8 101.7L598.0 102.2L598.2 78.0L598.4 105.4L598.6 103.7L598.9 93.6L599.1 51.7L599.3 87.9L599.5 98.8L599.8 100.9L600.0 116.8L600.2 112.5L600.4 114.8L600.6 117.1L600.9 115.0L601.1 100.5L601.3 115.2L601.5 111.9L601.8 113.9L602.0 85.1L602.2 118.2L602.4 115.3L602.6 111.9L602.9 112.9L603.1 114.1L603.3 118.6L603.5 113.5L603.8 112.5L604.0 106.2L604.2 105.0L604.4 119.1L604.6 125.2L604.9 117.7L605.1 126.5L605.3 119.1L605.5 119.8L605.8 119.4L606.0 106.4L606.2 105.7L606.4 100.1L606.6 110.0L606.9 108.5L607.1 101.9L607.3 90.3L607.5 90.6L607.8 91.9L608.0 109.2L608.2 103.5L608.4 112.2L608.6 110.4L608.9 106.3L609.1 96.2L609.3 77.3L609.5 97.1L609.8 102.6L610.0 88.8L610.2 108.1L610.4 108.1L610.6 94.5L610.9 102.4L611.1 93.0L611.3 97.5L611.5 95.3L611.8 97.5L612.0 108.0L612.2 108.2" fill="none" stroke="#636efa" stroke-width="0.9" stroke-linejoin="round"/>
<g font-size="10.7" fill="#3a4c6a"><text x="44.3" y="170.35" text-anchor="end">0</text><text x="44.3" y="154.36" text-anchor="end">100</text><text x="44.3" y="138.37" text-anchor="end">200</text><text x="44.3" y="122.38" text-anchor="end">300</text><text x="44.3" y="106.39" text-anchor="end">400</text><text x="44.3" y="90.40" text-anchor="end">500</text><text x="44.3" y="74.41" text-anchor="end">600</text><text x="44.3" y="58.42" text-anchor="end">700</text><text x="44.3" y="42.43" text-anchor="end">800</text><text x="44.10" y="183.1" text-anchor="middle">2016</text><text x="125.45" y="183.1" text-anchor="middle">2017</text><text x="206.57" y="183.1" text-anchor="middle">2018</text><text x="287.70" y="183.1" text-anchor="middle">2019</text><text x="368.82" y="183.1" text-anchor="middle">2020</text><text x="450.17" y="183.1" text-anchor="middle">2021</text><text x="531.30" y="183.1" text-anchor="middle">2022</text></g>
<text x="169.3" y="11.7" font-size="12.45" fill="#2a3f5f">Air Quality Index (AQI) from 2016 to 2022 in Delhi</text>
<text x="328.5" y="199.3" font-size="12.0" fill="#2a3f5f" text-anchor="middle">Date</text>
<text transform="translate(17.2 102.45) rotate(-90)" font-size="13.0" fill="#2a3f5f" text-anchor="middle">Mean AQI</text>
<text x="319.5" y="225.0" font-size="21.6" font-family="'Liberation Serif', serif" fill="#000" text-anchor="middle">(a)</text>
<rect x="43.1" y="279.5" width="568.10" height="157.90" fill="#e5ecf6"/>
<path d="M43.10 279.5V437.4M124.45 279.5V437.4M205.57 279.5V437.4M286.70 279.5V437.4M367.82 279.5V437.4M449.17 279.5V437.4M530.30 279.5V437.4M43.1 429.90H611.2M43.1 408.65H611.2M43.1 387.40H611.2M43.1 366.15H611.2M43.1 344.90H611.2M43.1 323.65H611.2M43.1 302.40H611.2M43.1 281.15H611.2" stroke="#fff" stroke-opacity="0.5" stroke-width="1" fill="none"/>
<path d="M43.1 381.5L43.3 391.4L43.5 391.4L43.8 386.3L44.0 373.4L44.2 384.4L44.4 388.8L44.7 397.2L44.9 388.4L45.1 384.5L45.3 386.1L45.5 397.3L45.8 406.9L46.0 389.5L46.2 390.5L46.4 407.1L46.7 421.4L46.9 407.2L47.1 405.7L47.3 403.7L47.5 403.0L47.8 397.1L48.0 396.5L48.2 397.3L48.4 394.0L48.7 391.1L48.9 395.8L49.1 394.3L49.3 394.7L49.5 392.9L49.8 393.4L50.0 391.2L50.2 389.9L50.4 389.6L50.7 390.6L50.9 389.9L51.1 390.2L51.3 390.3L51.5 388.7L51.8 388.9L52.0 385.8L52.2 384.8L52.4 388.2L52.7 387.0L52.9 388.2L53.1 387.4L53.3 386.8L53.5 388.8L53.8 388.3L54.0 387.9L54.2 385.7L54.4 387.7L54.7 385.9L54.9 387.7L55.1 387.6L55.3 388.1L55.5 385.2L55.8 384.7L56.0 383.1L56.2 383.3L56.4 383.4L56.7 383.4L56.9 385.0L57.1 385.6L57.3 384.0L57.5 385.3L57.8 385.4L58.0 385.8L58.2 385.0L58.4 386.1L58.7 386.4L58.9 386.0L59.1 385.9L59.3 387.4L59.5 386.0L59.8 390.2L60.0 393.0L60.2 395.4L60.4 395.2L60.7 397.5L60.9 400.5L61.1 397.0L61.3 400.9L61.5 402.1L61.8 402.9L62.0 401.2L62.2 402.6L62.4 402.4L62.7 401.8L62.9 402.1L63.1 401.8L63.3 399.3L63.5 400.9L63.8 403.1L64.0 404.4L64.2 403.9L64.4 403.7L64.7 402.7L64.9 403.2L65.1 403.6L65.3 404.1L65.5 404.2L65.8 403.5L66.0 403.8L66.2 403.4L66.4 400.3L66.7 405.3L66.9 404.3L67.1 401.0L67.3 405.0L67.5 403.8L67.8 401.9L68.0 402.4L68.2 403.9L68.4 404.8L68.7 405.7L68.9 404.9L69.1 402.1L69.3 403.3L69.5 402.4L69.8 399.7L70.0 403.2L70.2 402.6L70.4 403.6L70.7 405.7L70.9 406.6L71.1 405.6L71.3 403.8L71.5 404.9L71.8 404.2L72.0 415.2L72.2 401.8L72.4 400.4L72.7 400.5L72.9 400.4L73.1 398.4L73.3 398.7L73.5 399.9L73.8 399.6L74.0 404.0L74.2 405.0L74.4 402.1L74.7 409.1L74.9 398.2L75.1 400.0L75.3 406.4L75.6 399.3L75.8 398.2L76.0 394.2L76.2 399.3L76.4 401.1L76.7 408.1L76.9 408.1L77.1 408.2L77.3 401.1L77.6 405.9L77.8 406.3L78.0 406.6L78.2 407.1L78.4 408.6L78.7 406.8L78.9 400.5L79.1 398.5L79.3 405.9L79.6 408.8L79.8 397.1L80.0 408.4L80.2 408.9L80.4 411.0L80.7 401.1L80.9 396.0L81.1 391.0L81.3 398.6L81.6 392.2L81.8 409.2L82.0 409.3L82.2 408.9L82.4 384.2L82.7 405.1L82.9 405.8L83.1 406.2L83.3 394.2L83.6 392.5L83.8 400.2L84.0 411.2L84.2 401.0L84.4 410.3L84.7 416.1L84.9 416.9L85.1 288.2L85.3 412.8L85.6 413.4L85.8 418.2L86.0 416.1L86.2 429.3L86.4 412.4L86.7 414.1L86.9 419.7L87.1 421.8L87.3 416.3L87.6 418.5L87.8 422.5L88.0 421.9L88.2 420.8L88.4 403.3L88.7 419.9L88.9 417.7L89.1 416.1L89.3 418.5L89.6 418.9L89.8 415.0L90.0 414.0L90.2 414.2L90.4 414.8L90.7 414.3L90.9 415.7L91.1 416.8L91.3 419.4L91.6 418.9L91.8 403.3L92.0 414.0L92.2 415.4L92.4 414.5L92.7 414.1L92.9 415.4L93.1 414.6L93.3 420.5L93.6 419.4L93.8 416.9L94.0 422.1L94.2 422.4L94.4 419.1L94.7 419.4L94.9 421.2L95.1 420.9L95.3 421.0L95.6 418.3L95.8 417.2L96.0 418.3L96.2 419.8L96.4 419.3L96.7 415.9L96.9 416.1L97.1 415.6L97.3 416.9L97.6 420.4L97.8 421.0L98.0 403.3L98.2 418.1L98.4 420.3L98.7 422.3L98.9 420.9L99.1 423.5L99.3 420.5L99.6 420.3L99.8 418.6L100.0 417.5L100.2 414.8L100.4 413.5L100.7 412.2L100.9 412.2L101.1 414.5L101.3 415.8L101.6 414.8L101.8 416.9L102.0 415.1L102.2 412.4L102.4 417.0L102.7 422.1L102.9 416.6L103.1 416.8L103.3 414.0L103.6 419.9L103.8 412.3L104.0 411.4L104.2 413.6L104.4 416.3L104.7 415.9L104.9 416.8L105.1 417.6L105.3 420.2L105.6 414.1L105.8 415.1L106.0 415.1L106.2 403.3L106.4 421.3L106.7 418.4L106.9 418.3L107.1 418.1L107.3 416.9L107.6 419.0L107.8 414.9L108.0 417.3L108.2 418.9L108.4 419.5L108.7 417.6L108.9 413.6L109.1 415.1L109.3 417.3L109.6 407.4L109.8 411.3L110.0 392.1L110.2 392.8L110.4 400.6L110.7 402.5L110.9 390.4L111.1 364.7L111.3 376.1L111.6 355.6L111.8 335.7L112.0 348.0L112.2 288.8L112.4 391.9L112.7 399.8L112.9 396.8L113.1 395.6L113.3 399.6L113.6 382.7L113.8 402.2L114.0 401.9L114.2 362.8L114.4 347.2L114.7 345.9L114.9 345.9L115.1 334.8L115.3 337.5L115.6 343.9L115.8 370.4L116.0 368.0L116.2 378.0L116.4 382.4L116.7 329.2L116.9 376.6L117.1 376.6L117.3 358.2L117.6 383.0L117.8 380.6L118.0 354.6L118.2 361.8L118.4 357.8L118.7 358.5L118.9 360.0L119.1 364.0L119.3 381.3L119.6 386.7L119.8 391.7L120.0 401.8L120.2 403.0L120.4 406.4L120.7 408.9L120.9 403.7L121.1 399.8L121.3 402.3L121.6 405.1L121.8 404.6L122.0 403.5L122.2 403.1L122.4 400.6L122.7 401.9L122.9 397.1L123.1 391.9L123.3 390.4L123.6 399.8L123.8 403.2L124.0 399.5L124.2 400.7L124.4 400.6L124.7 410.6L124.9 412.6L125.1 410.7L125.3 406.3L125.6 392.0L125.8 388.8L126.0 391.2L126.2 394.8L126.4 408.2L126.7 398.7L126.9 404.7L127.1 399.0L127.3 398.0L127.6 396.7L127.8 390.8L128.0 399.1L128.2 403.2L128.4 408.5L128.7 408.4L128.9 391.3L129.1 398.4L129.3 389.2L129.6 387.4L129.8 386.9L130.0 386.2L130.2 400.3L130.4 396.9L130.7 385.9L130.9 397.0L131.1 399.1L131.3 405.5L131.6 401.4L131.8 409.0L132.0 391.7L132.2 399.1L132.4 410.9L132.7 415.4L132.9 387.1L133.1 387.7L133.3 388.0L133.6 396.1L133.8 400.5L134.0 393.2L134.2 387.9L134.4 385.3L134.7 388.6L134.9 397.9L135.1 401.3L135.3 389.9L135.6 383.2L135.8 391.4L136.0 400.4L136.2 388.1L136.4 386.5L136.7 385.7L136.9 377.2L137.1 405.7L137.3 407.7L137.6 403.8L137.8 413.2L138.0 399.8L138.2 397.1L138.5 394.2L138.7 407.7L138.9 405.7L139.1 390.9L139.3 388.8L139.6 404.0L139.8 396.0L140.0 405.0L140.2 395.6L140.5 401.8L140.7 389.7L140.9 389.6L141.1 392.1L141.3 382.8L141.6 383.6L141.8 382.6L142.0 397.6L142.2 405.8L142.5 396.1L142.7 390.3L142.9 395.3L143.1 391.0L143.3 405.8L143.6 402.8L143.8 412.3L144.0 420.2L144.2 409.1L144.5 412.0L144.7 408.4L144.9 389.8L145.1 404.6L145.3 409.4L145.6 397.0L145.8 404.1L146.0 372.7L146.2 392.4L146.5 396.0L146.7 396.0L146.9 387.8L147.1 389.1L147.3 390.7L147.6 393.6L147.8 410.3L148.0 413.3L148.2 399.1L148.5 394.9L148.7 395.0L148.9 394.3L149.1 403.3L149.3 401.4L149.6 409.4L149.8 406.1L150.0 410.0L150.2 409.7L150.5 405.8L150.7 408.0L150.9 402.2L151.1 399.9L151.3 399.4L151.6 393.1L151.8 408.5L152.0 414.1L152.2 409.0L152.5 400.7L152.7 415.5L152.9 391.5L153.1 392.3L153.3 404.0L153.6 400.3L153.8 360.2L154.0 410.6L154.2 413.8L154.5 413.3L154.7 411.8L154.9 417.8L155.1 416.8L155.3 415.3L155.6 415.4L155.8 414.7L156.0 409.1L156.2 416.6L156.5 415.2L156.7 415.7L156.9 417.2L157.1 416.1L157.3 410.1L157.6 416.7L157.8 418.4L158.0 418.8L158.2 414.4L158.5 415.7L158.7 415.8L158.9 417.1L159.1 417.9L159.3 418.9L159.6 418.0L159.8 416.9L160.0 418.7L160.2 418.7L160.5 418.6L160.7 417.9L160.9 416.9L161.1 413.2L161.3 410.5L161.6 410.1L161.8 409.6L162.0 400.8L162.2 416.7L162.5 413.0L162.7 413.3L162.9 423.3L163.1 418.3L163.3 418.9L163.6 417.6L163.8 416.7L164.0 416.9L164.2 417.2L164.5 418.6L164.7 417.5L164.9 414.5L165.1 410.7L165.3 412.3L165.6 414.4L165.8 417.4L166.0 413.6L166.2 410.3L166.5 413.9L166.7 413.8L166.9 414.5L167.1 416.6L167.3 418.9L167.6 417.6L167.8 416.6L168.0 418.1L168.2 418.2L168.5 419.2L168.7 417.4L168.9 415.4L169.1 414.8L169.3 415.2L169.6 407.2L169.8 415.4L170.0 404.3L170.2 415.3L170.5 414.6L170.7 413.5L170.9 406.5L171.1 414.7L171.3 418.2L171.6 415.2L171.8 417.3L172.0 419.3L172.2 417.2L172.5 404.2L172.7 418.3L172.9 415.8L173.1 417.9L173.3 416.7L173.6 384.2L173.8 412.2L174.0 408.7L174.2 419.8L174.5 410.7L174.7 412.9L174.9 413.2L175.1 415.5L175.3 412.4L175.6 419.3L175.8 418.3L176.0 413.3L176.2 417.3L176.5 411.3L176.7 417.5L176.9 418.3L177.1 422.1L177.3 424.3L177.6 426.8L177.8 426.6L178.0 425.1L178.2 426.4L178.5 421.2L178.7 414.7L178.9 423.9L179.1 419.1L179.3 419.1L179.6 418.9L179.8 412.2L180.0 412.1L180.2 413.4L180.5 415.2L180.7 426.2L180.9 378.3L181.1 424.4L181.3 422.6L181.6 421.7L181.8 417.0L182.0 412.4L182.2 412.5L182.5 412.1L182.7 415.0L182.9 415.4L183.1 414.6L183.3 423.4L183.6 414.1L183.8 419.7L184.0 425.5L184.2 416.7L184.5 412.2L184.7 417.0L184.9 421.6L185.1 411.8L185.3 413.6L185.6 424.6L185.8 425.5L186.0 415.3L186.2 414.9L186.5 414.4L186.7 413.0L186.9 429.3L187.1 414.8L187.3 420.0L187.6 412.7L187.8 413.7L188.0 408.3L188.2 390.7L188.5 386.0L188.7 388.2L188.9 312.0L189.1 385.7L189.3 381.9L189.6 397.2L189.8 395.3L190.0 379.6L190.2 378.7L190.5 391.3L190.7 396.7L190.9 401.3L191.1 400.6L191.3 390.7L191.6 392.8L191.8 396.4L192.0 396.8L192.2 396.0L192.5 298.1L192.7 395.8L192.9 310.9L193.1 394.0L193.3 376.7L193.6 389.4L193.8 307.7L194.0 381.6L194.2 396.3L194.5 396.9L194.7 396.8L194.9 395.2L195.1 330.0L195.3 397.1L195.6 395.4L195.8 399.8L196.0 403.8L196.2 406.8L196.5 404.6L196.7 409.8L196.9 406.2L197.1 399.0L197.3 394.7L197.6 397.3L197.8 401.8L198.0 400.1L198.2 404.1L198.5 409.8L198.7 397.7L198.9 404.6L199.1 392.4L199.3 392.5L199.6 397.2L199.8 395.6L200.0 391.5L200.2 402.2L200.5 407.3L200.7 410.1L200.9 405.5L201.1 400.1L201.4 399.5L201.6 404.7L201.8 406.1L202.0 395.7L202.2 389.8L202.5 390.1L202.7 400.6L202.9 392.2L203.1 389.1L203.4 386.9L203.6 375.4L203.8 373.3L204.0 384.9L204.2 394.7L204.5 379.3L204.7 380.8L204.9 376.3L205.1 381.7L205.4 393.3L205.6 353.0L205.8 375.4L206.0 377.2L206.2 391.7L206.5 393.1L206.7 395.3L206.9 391.7L207.1 381.1L207.4 372.7L207.6 375.7L207.8 383.5L208.0 385.2L208.2 387.4L208.5 406.8L208.7 393.0L208.9 393.2L209.1 402.0L209.4 395.8L209.6 398.7L209.8 404.5L210.0 398.8L210.2 385.1L210.5 386.8L210.7 410.6L210.9 391.8L211.1 402.6L211.4 405.4L211.6 397.0L211.8 405.8L212.0 398.5L212.2 414.3L212.5 409.7L212.7 400.7L212.9 398.8L213.1 400.7L213.4 393.7L213.6 404.9L213.8 411.0L214.0 407.7L214.2 394.7L214.5 395.3L214.7 400.0L214.9 398.7L215.1 396.8L215.4 409.4L215.6 418.0L215.8 417.6L216.0 418.0L216.2 416.7L216.5 417.1L216.7 416.6L216.9 411.0L217.1 407.8L217.4 406.5L217.6 392.1L217.8 399.7L218.0 418.3L218.2 393.8L218.5 406.9L218.7 414.8L218.9 402.0L219.1 399.8L219.4 396.6L219.6 394.8L219.8 392.6L220.0 399.8L220.2 402.2L220.5 411.0L220.7 407.8L220.9 404.6L221.1 408.0L221.4 401.3L221.6 390.1L221.8 398.7L222.0 395.7L222.2 394.0L222.5 392.9L222.7 401.2L222.9 395.4L223.1 395.3L223.4 399.2L223.6 404.0L223.8 402.6L224.0 397.7L224.2 396.0L224.5 392.7L224.7 396.2L224.9 396.4L225.1 401.8L225.4 398.7L225.6 400.4L225.8 406.5L226.0 414.2L226.2 415.2L226.5 410.7L226.7 399.9L226.9 398.6L227.1 408.7L227.4 410.9L227.6 409.2L227.8 409.2L228.0 408.0L228.2 403.0L228.5 403.4L228.7 409.6L228.9 418.0L229.1 416.4L229.4 419.3L229.6 417.0L229.8 412.6L230.0 417.3L230.2 415.2L230.5 414.7L230.7 401.4L230.9 401.8L231.1 415.4L231.4 410.9L231.6 407.8L231.8 409.9L232.0 412.0L232.2 407.5L232.5 404.3L232.7 403.8L232.9 412.4L233.1 412.9L233.4 418.4L233.6 419.8L233.8 419.0L234.0 419.4L234.2 418.3L234.5 402.0L234.7 402.4L234.9 411.1L235.1 419.3L235.4 419.3L235.6 420.1L235.8 420.9L236.0 417.9L236.2 417.5L236.5 413.3L236.7 397.5L236.9 399.9L237.1 403.0L237.4 404.0L237.6 408.6L237.8 414.2L238.0 414.1L238.2 406.4L238.5 410.5L238.7 417.5L238.9 419.5L239.1 420.0L239.4 418.2L239.6 414.6L239.8 411.9L240.0 406.6L240.2 410.7L240.5 408.1L240.7 409.2L240.9 408.3L241.1 418.5L241.4 412.2L241.6 419.2L241.8 420.7L242.0 363.8L242.2 418.0L242.5 410.9L242.7 412.6L242.9 418.1L243.1 417.5L243.4 418.7L243.6 413.4L243.8 411.7L244.0 412.5L244.2 415.4L244.5 416.3L244.7 414.1L244.9 418.5L245.1 420.4L245.4 417.4L245.6 415.6L245.8 417.7L246.0 419.1L246.2 422.5L246.5 419.2L246.7 419.5L246.9 415.4L247.1 422.8L247.4 422.2L247.6 418.0L247.8 416.4L248.0 421.2L248.2 415.4L248.5 414.0L248.7 419.0L248.9 423.5L249.1 421.1L249.4 421.9L249.6 421.5L249.8 422.0L250.0 417.9L250.2 414.9L250.5 414.8L250.7 416.9L250.9 412.8L251.1 416.5L251.4 422.7L251.6 417.8L251.8 419.9L252.0 419.1L252.2 419.1L252.5 416.4L252.7 414.8L252.9 412.9L253.1 415.0L253.4 420.1L253.6 419.6L253.8 421.4L254.0 418.1L254.2 421.2L254.5 420.6L254.7 416.9L254.9 414.8L255.1 415.9L255.4 413.6L255.6 412.9L255.8 420.6L256.0 419.0L256.2 418.6L256.5 420.4L256.7 421.5L256.9 420.9L257.1 424.0L257.4 418.3L257.6 414.1L257.8 413.2L258.0 417.3L258.2 420.8L258.5 417.1L258.7 420.6L258.9 419.8L259.1 417.5L259.4 414.3L259.6 414.3L259.8 412.1L260.0 415.6L260.2 414.4L260.5 419.1L260.7 418.3L260.9 418.1L261.1 421.2L261.4 423.9L261.6 421.4L261.8 419.8L262.0 418.9L262.2 420.9L262.5 421.0L262.7 418.9L262.9 418.8L263.1 413.7L263.4 415.0L263.6 419.9L263.8 416.8L264.0 420.0L264.3 418.7L264.5 422.4L264.7 421.4L264.9 417.8L265.1 419.0L265.4 417.5L265.6 412.2L265.8 411.7L266.0 399.6L266.3 404.3L266.5 408.1L266.7 410.4L266.9 419.9L267.1 421.5L267.4 416.1L267.6 415.4L267.8 398.8L268.0 402.7L268.3 406.3L268.5 393.7L268.7 394.6L268.9 383.7L269.1 401.9L269.4 396.8L269.6 391.4L269.8 389.6L270.0 384.2L270.3 382.6L270.5 387.4L270.7 397.7L270.9 388.3L271.1 391.4L271.4 385.6L271.6 381.4L271.8 384.3L272.0 395.9L272.3 397.6L272.5 389.0L272.7 392.5L272.9 384.1L273.1 386.5L273.4 387.2L273.6 382.5L273.8 392.3L274.0 384.1L274.3 388.3L274.5 391.3L274.7 334.9L274.9 388.5L275.1 403.9L275.4 404.9L275.6 390.3L275.8 382.3L276.0 386.4L276.3 382.8L276.5 403.0L276.7 390.7L276.9 388.9L277.1 402.0L277.4 411.7L277.6 409.5L277.8 401.2L278.0 393.2L278.3 391.8L278.5 382.5L278.7 384.2L278.9 399.4L279.1 400.6L279.4 402.6L279.6 389.0L279.8 394.4L280.0 386.1L280.3 387.7L280.5 379.1L280.7 382.4L280.9 385.6L281.1 388.8L281.4 389.1L281.6 379.2L281.8 384.7L282.0 394.2L282.3 395.5L282.5 388.7L282.7 399.8L282.9 389.5L283.1 385.4L283.4 389.1L283.6 392.4L283.8 400.8L284.0 400.4L284.3 405.0L284.5 386.5L284.7 340.9L284.9 381.2L285.1 383.5L285.4 407.3L285.6 406.1L285.8 394.0L286.0 385.8L286.3 383.2L286.5 372.6L286.7 374.5L286.9 382.0L287.1 362.1L287.4 397.2L287.6 407.4L287.8 407.8L288.0 407.9L288.3 408.6L288.5 402.2L288.7 404.7L288.9 396.6L289.1 378.2L289.4 377.9L289.6 376.0L289.8 361.7L290.0 352.3L290.3 401.8L290.5 376.1L290.7 371.2L290.9 359.3L291.1 355.2L291.4 352.4L291.6 370.5L291.8 357.5L292.0 356.3L292.3 348.6L292.5 351.1L292.7 355.4L292.9 364.5L293.1 367.4L293.4 401.0L293.6 397.3L293.8 391.0L294.0 369.1L294.3 384.5L294.5 379.5L294.7 345.8L294.9 370.1L295.1 361.6L295.4 376.0L295.6 378.8L295.8 371.4L296.0 361.8L296.3 375.5L296.5 395.9L296.7 364.1L296.9 366.8L297.1 362.0L297.4 360.1L297.6 361.6L297.8 373.5L298.0 381.3L298.3 407.1L298.5 398.7L298.7 402.8L298.9 399.7L299.1 378.5L299.4 380.2L299.6 386.8L299.8 406.8L300.0 397.1L300.3 386.1L300.5 398.4L300.7 395.1L300.9 402.8L301.1 390.0L301.4 406.6L301.6 417.2L301.8 415.9L302.0 420.0L302.3 404.0L302.5 392.7L302.7 396.0L302.9 395.8L303.1 398.1L303.4 398.0L303.6 398.1L303.8 403.2L304.0 405.3L304.3 415.4L304.5 417.8L304.7 417.2L304.9 411.7L305.1 412.2L305.4 390.2L305.6 397.7L305.8 405.4L306.0 400.3L306.3 391.3L306.5 383.4L306.7 383.7L306.9 395.2L307.1 401.7L307.4 391.7L307.6 394.3L307.8 390.6L308.0 380.2L308.3 386.0L308.5 383.2L308.7 383.1L308.9 387.6L309.1 387.8L309.4 417.6L309.6 411.9L309.8 403.3L310.0 421.0L310.3 419.4L310.5 407.9L310.7 395.7L310.9 406.1L311.1 398.2L311.4 401.0L311.6 406.0L311.8 416.7L312.0 387.3L312.3 399.1L312.5 411.3L312.7 422.0L312.9 420.2L313.1 407.7L313.4 387.4L313.6 391.4L313.8 387.2L314.0 400.9L314.3 403.8L314.5 393.9L314.7 394.8L314.9 399.5L315.1 415.7L315.4 419.4L315.6 417.4L315.8 416.5L316.0 365.9L316.3 414.3L316.5 412.4L316.7 409.2L316.9 401.8L317.1 401.8L317.4 408.0L317.6 408.6L317.8 396.1L318.0 401.7L318.3 410.4L318.5 414.0L318.7 408.4L318.9 400.5L319.1 386.7L319.4 396.1L319.6 383.5L319.8 393.5L320.0 400.0L320.3 406.2L320.5 398.8L320.7 387.3L320.9 393.0L321.1 403.4L321.4 413.1L321.6 408.6L321.8 408.8L322.0 407.9L322.3 410.2L322.5 412.7L322.7 372.9L322.9 405.5L323.1 392.5L323.4 396.5L323.6 394.5L323.8 400.4L324.0 403.0L324.3 412.2L324.5 401.9L324.7 394.1L324.9 382.1L325.1 396.3L325.4 397.8L325.6 409.0L325.8 406.0L326.0 407.0L326.3 398.9L326.5 403.9L326.7 397.8L326.9 407.7L327.2 401.1L327.4 407.9L327.6 411.6L327.8 410.7L328.0 406.9L328.3 417.2L328.5 420.8L328.7 417.7L328.9 416.3L329.2 422.2L329.4 423.4L329.6 423.1L329.8 420.1L330.0 417.6L330.3 408.7L330.5 402.4L330.7 396.9L330.9 409.7L331.2 412.0L331.4 404.4L331.6 417.3L331.8 421.7L332.0 418.7L332.3 409.2L332.5 402.1L332.7 418.6L332.9 421.7L333.2 419.8L333.4 420.1L333.6 416.8L333.8 415.4L334.0 401.7L334.3 406.3L334.5 399.0L334.7 409.8L334.9 398.0L335.2 416.1L335.4 412.4L335.6 417.8L335.8 421.9L336.0 413.6L336.3 409.2L336.5 401.3L336.7 403.8L336.9 403.0L337.2 405.9L337.4 404.6L337.6 411.7L337.8 400.6L338.0 412.0L338.3 400.7L338.5 406.3L338.7 402.9L338.9 405.7L339.2 405.3L339.4 399.6L339.6 402.9L339.8 415.0L340.0 412.4L340.3 407.3L340.5 422.3L340.7 415.7L340.9 405.8L341.2 419.9L341.4 418.6L341.6 411.2L341.8 419.0L342.0 419.1L342.3 418.9L342.5 414.0L342.7 404.7L342.9 395.3L343.2 409.9L343.4 404.1L343.6 403.7L343.8 408.2L344.0 405.1L344.3 416.4L344.5 414.7L344.7 416.8L344.9 418.2L345.2 416.2L345.4 415.9L345.6 402.1L345.8 404.3L346.0 407.1L346.3 405.6L346.5 421.9L346.7 419.3L346.9 418.9L347.2 415.9L347.4 420.3L347.6 419.4L347.8 421.5L348.0 420.3L348.3 422.1L348.5 422.0L348.7 420.4L348.9 417.4L349.2 411.0L349.4 411.2L349.6 412.8L349.8 409.0L350.0 409.6L350.3 405.2L350.5 407.1L350.7 414.3L350.9 414.9L351.2 415.5L351.4 416.3L351.6 416.0L351.8 415.7L352.0 414.9L352.3 414.8L352.5 412.3L352.7 410.4L352.9 410.0L353.2 408.7L353.4 415.0L353.6 416.8L353.8 416.6L354.0 413.1L354.3 416.2L354.5 414.8L354.7 409.9L354.9 356.8L355.2 385.7L355.4 398.6L355.6 381.0L355.8 382.9L356.0 393.9L356.3 376.4L356.5 401.5L356.7 397.7L356.9 397.1L357.2 382.0L357.4 405.9L357.6 414.1L357.8 412.6L358.0 410.8L358.3 406.9L358.5 408.2L358.7 401.6L358.9 389.6L359.2 390.7L359.4 408.0L359.6 389.4L359.8 411.4L360.0 409.7L360.3 395.7L360.5 405.6L360.7 384.4L360.9 369.7L361.2 366.6L361.4 370.1L361.6 369.2L361.8 385.0L362.0 384.0L362.3 382.4L362.5 387.4L362.7 389.4L362.9 397.8L363.2 415.5L363.4 407.3L363.6 401.2L363.8 367.0L364.0 367.3L364.3 375.9L364.5 369.8L364.7 369.6L364.9 379.6L365.2 395.1L365.4 411.8L365.6 405.9L365.8 373.0L366.0 409.8L366.3 413.2L366.5 400.7L366.7 397.2L366.9 388.8L367.2 412.2L367.4 411.7L367.6 402.4L367.8 391.9L368.0 389.1L368.3 403.8L368.5 348.9L368.7 407.6L368.9 410.6L369.2 412.8L369.4 395.6L369.6 401.0L369.8 399.4L370.0 412.4L370.3 400.5L370.5 394.3L370.7 408.5L370.9 412.0L371.2 396.3L371.4 404.4L371.6 385.1L371.8 394.8L372.0 410.4L372.3 400.2L372.5 395.1L372.7 390.4L372.9 398.4L373.2 400.1L373.4 391.5L373.6 401.1L373.8 410.8L374.0 401.8L374.3 405.1L374.5 393.2L374.7 399.3L374.9 402.5L375.2 403.1L375.4 412.8L375.6 402.6L375.8 405.9L376.0 404.9L376.3 393.1L376.5 394.8L376.7 391.5L376.9 392.5L377.2 391.0L377.4 392.4L377.6 389.4L377.8 393.8L378.0 393.2L378.3 400.4L378.5 410.3L378.7 409.4L378.9 404.9L379.2 400.1L379.4 397.5L379.6 398.4L379.8 391.0L380.0 386.8L380.3 392.2L380.5 407.8L380.7 410.6L380.9 410.9L381.2 409.0L381.4 407.7L381.6 395.7L381.8 397.3L382.0 407.7L382.3 408.5L382.5 414.2L382.7 415.5L382.9 406.5L383.2 410.7L383.4 417.6L383.6 422.9L383.8 420.9L384.0 422.4L384.3 423.1L384.5 417.0L384.7 416.2L384.9 416.3L385.2 422.3L385.4 419.4L385.6 418.1L385.8 422.1L386.0 417.5L386.3 416.0L386.5 419.9L386.7 423.7L386.9 424.5L387.2 422.7L387.4 419.6L387.6 419.8L387.8 421.9L388.0 422.0L388.3 420.6L388.5 423.5L388.7 424.9L388.9 424.5L389.2 421.9L389.4 422.0L389.6 422.2L389.8 424.0L390.0 422.4L390.3 425.3L390.5 425.1L390.7 425.5L390.9 425.4L391.2 426.1L391.4 425.2L391.6 425.4L391.8 426.1L392.1 425.6L392.3 425.7L392.5 426.1L392.7 426.4L392.9 425.5L393.2 426.3L393.4 426.3L393.6 426.3L393.8 425.8L394.1 425.9L394.3 427.3L394.5 426.2L394.7 425.5L394.9 425.6L395.2 424.5L395.4 426.4L395.6 425.0L395.8 426.5L396.1 425.6L396.3 425.1L396.5 425.3L396.7 426.1L396.9 426.6L397.2 426.2L397.4 426.5L397.6 427.0L397.8 423.4L398.1 426.4L398.3 425.4L398.5 424.6L398.7 424.8L398.9 424.4L399.2 423.9L399.4 424.0L399.6 425.5L399.8 425.9L400.1 426.4L400.3 425.8L400.5 426.2L400.7 425.9L400.9 423.5L401.2 424.8L401.4 422.7L401.6 420.9L401.8 425.2L402.1 426.1L402.3 425.2L402.5 425.5L402.7 424.6L402.9 422.8L403.2 424.5L403.4 422.3L403.6 419.6L403.8 419.3L404.1 422.8L404.3 423.7L404.5 424.6L404.7 420.4L404.9 422.2L405.2 424.3L405.4 424.1L405.6 422.6L405.8 424.1L406.1 423.9L406.3 412.3L406.5 421.6L406.7 419.9L406.9 420.5L407.2 420.4L407.4 422.2L407.6 424.6L407.8 421.6L408.1 421.4L408.3 421.6L408.5 425.7L408.7 420.4L408.9 418.6L409.2 418.2L409.4 419.3L409.6 419.3L409.8 417.5L410.1 419.4L410.3 419.2L410.5 419.3L410.7 420.4L410.9 420.6L411.2 424.3L411.4 422.3L411.6 424.9L411.8 420.1L412.1 419.5L412.3 423.3L412.5 425.7L412.7 425.0L412.9 424.0L413.2 425.0L413.4 420.5L413.6 420.8L413.8 423.2L414.1 425.2L414.3 424.8L414.5 424.6L414.7 422.7L414.9 420.0L415.2 421.1L415.4 420.7L415.6 418.7L415.8 418.9L416.1 420.9L416.3 420.1L416.5 422.8L416.7 421.6L416.9 422.1L417.2 424.7L417.4 423.0L417.6 422.9L417.8 420.9L418.1 424.7L418.3 421.4L418.5 419.3L418.7 421.6L418.9 422.6L419.2 422.7L419.4 423.0L419.6 420.7L419.8 423.9L420.1 425.1L420.3 424.9L420.5 420.3L420.7 422.6L420.9 424.9L421.2 425.5L421.4 424.9L421.6 422.3L421.8 424.7L422.1 424.3L422.3 423.9L422.5 423.3L422.7 423.6L422.9 426.9L423.2 422.5L423.4 424.4L423.6 422.2L423.8 424.7L424.1 426.2L424.3 424.2L424.5 423.7L424.7 424.1L424.9 423.4L425.2 421.7L425.4 423.1L425.6 424.0L425.8 425.0L426.1 425.2L426.3 425.2L426.5 421.6L426.7 420.3L426.9 418.5L427.2 421.3L427.4 417.4L427.6 423.0L427.8 420.6L428.1 418.0L428.3 420.4L428.5 426.2L428.7 419.9L428.9 421.7L429.2 423.1L429.4 421.6L429.6 423.5L429.8 422.1L430.1 415.3L430.3 417.0L430.5 415.4L430.7 418.8L430.9 417.6L431.2 417.5L431.4 416.4L431.6 411.8L431.8 406.3L432.1 406.3L432.3 402.8L432.5 401.9L432.7 399.8L432.9 402.4L433.2 406.4L433.4 405.5L433.6 408.2L433.8 404.5L434.1 408.6L434.3 405.2L434.5 401.5L434.7 389.3L434.9 386.2L435.2 387.5L435.4 393.6L435.6 391.9L435.8 389.9L436.1 394.2L436.3 402.3L436.5 411.2L436.7 407.8L436.9 391.4L437.2 395.7L437.4 394.7L437.6 363.0L437.8 393.3L438.1 391.1L438.3 410.3L438.5 408.7L438.7 403.5L438.9 404.2L439.2 393.4L439.4 400.6L439.6 393.8L439.8 387.0L440.1 414.7L440.3 397.0L440.5 402.8L440.7 396.0L440.9 416.7L441.2 420.0L441.4 417.3L441.6 406.1L441.8 399.4L442.1 409.0L442.3 392.5L442.5 395.6L442.7 405.2L442.9 399.3L443.2 390.5L443.4 395.5L443.6 412.5L443.8 413.6L444.1 409.4L444.3 398.2L444.5 409.9L444.7 405.4L444.9 414.4L445.2 410.1L445.4 417.1L445.6 389.7L445.8 419.8L446.1 419.8L446.3 421.3L446.5 422.3L446.7 412.9L446.9 398.4L447.2 396.0L447.4 402.6L447.6 390.6L447.8 397.4L448.1 395.9L448.3 390.1L448.5 392.8L448.7 387.5L448.9 393.0L449.2 398.2L449.4 383.8L449.6 411.4L449.8 416.2L450.1 405.6L450.3 417.6L450.5 404.2L450.7 401.9L450.9 393.5L451.2 392.7L451.4 393.4L451.6 389.7L451.8 394.4L452.1 399.6L452.3 394.9L452.5 404.7L452.7 394.1L452.9 397.0L453.2 405.2L453.4 416.0L453.6 421.9L453.8 407.3L454.1 418.0L454.3 420.7L454.5 413.5L454.7 409.1L455.0 408.6L455.2 409.3L455.4 413.8L455.6 417.9L455.8 419.2L456.1 413.8L456.3 404.7L456.5 400.3L456.7 404.2L457.0 420.2L457.2 415.2L457.4 415.0L457.6 423.0L457.8 414.7L458.1 412.3L458.3 412.7L458.5 410.8L458.7 410.3L459.0 409.0L459.2 409.3L459.4 410.2L459.6 406.3L459.8 405.8L460.1 397.1L460.3 399.7L460.5 406.9L460.7 413.7L461.0 409.8L461.2 409.5L461.4 408.3L461.6 411.3L461.8 413.0L462.1 406.3L462.3 400.0L462.5 401.6L462.7 405.7L463.0 416.1L463.2 419.8L463.4 417.0L463.6 416.5L463.8 415.4L464.1 419.4L464.3 417.5L464.5 422.4L464.7 422.7L465.0 422.2L465.2 417.1L465.4 418.3L465.6 420.2L465.8 416.4L466.1 415.5L466.3 407.4L466.5 406.8L466.7 407.4L467.0 411.1L467.2 406.4L467.4 414.5L467.6 420.6L467.8 413.7L468.1 416.0L468.3 414.6L468.5 409.2L468.7 403.2L469.0 421.8L469.2 422.2L469.4 414.2L469.6 421.1L469.8 416.5L470.1 417.0L470.3 419.6L470.5 418.0L470.7 422.1L471.0 418.0L471.2 408.2L471.4 397.5L471.6 419.5L471.8 409.8L472.1 402.0L472.3 413.0L472.5 402.3L472.7 417.4L473.0 417.2L473.2 415.3L473.4 416.2L473.6 409.3L473.8 419.8L474.1 417.4L474.3 419.4L474.5 409.6L474.7 403.2L475.0 413.1L475.2 418.8L475.4 417.3L475.6 419.8L475.8 420.2L476.1 416.4L476.3 418.0L476.5 405.6L476.7 408.9L477.0 415.6L477.2 420.3L477.4 420.7L477.6 413.8L477.8 411.5L478.1 406.7L478.3 405.7L478.5 407.2L478.7 414.6L479.0 417.1L479.2 417.4L479.4 422.8L479.6 420.7L479.8 422.7L480.1 421.8L480.3 422.1L480.5 419.5L480.7 409.4L481.0 417.4L481.2 374.9L481.4 410.4L481.6 417.4L481.8 419.3L482.1 419.6L482.3 418.1L482.5 422.7L482.7 420.8L483.0 418.0L483.2 410.1L483.4 412.6L483.6 417.5L483.8 417.6L484.1 423.5L484.3 421.8L484.5 415.1L484.7 416.9L485.0 418.0L485.2 419.5L485.4 418.8L485.6 421.8L485.8 415.5L486.1 419.0L486.3 420.2L486.5 413.7L486.7 415.5L487.0 418.7L487.2 413.0L487.4 414.4L487.6 413.2L487.8 417.3L488.1 422.0L488.3 420.7L488.5 415.2L488.7 418.5L489.0 417.2L489.2 415.3L489.4 415.8L489.6 416.8L489.8 415.0L490.1 415.9L490.3 419.5L490.5 416.4L490.7 416.0L491.0 416.9L491.2 416.9L491.4 424.1L491.6 423.3L491.8 423.2L492.1 425.4L492.3 421.2L492.5 421.5L492.7 424.0L493.0 425.0L493.2 424.4L493.4 424.5L493.6 426.4L493.8 426.2L494.1 425.1L494.3 423.5L494.5 421.9L494.7 425.2L495.0 425.7L495.2 424.8L495.4 425.5L495.6 424.9L495.8 425.8L496.1 424.4L496.3 424.3L496.5 422.9L496.7 423.4L497.0 425.3L497.2 426.3L497.4 425.7L497.6 425.9L497.8 426.7L498.1 426.5L498.3 425.0L498.5 421.9L498.7 421.3L499.0 420.3L499.2 422.0L499.4 423.2L499.6 425.4L499.8 425.9L500.1 422.1L500.3 422.0L500.5 421.5L500.7 419.6L501.0 419.5L501.2 421.0L501.4 420.6L501.6 423.3L501.8 421.5L502.1 425.9L502.3 426.3L502.5 426.5L502.7 422.1L503.0 426.0L503.2 423.3L503.4 421.3L503.6 422.1L503.8 421.2L504.1 419.6L504.3 420.1L504.5 421.7L504.7 420.4L505.0 420.4L505.2 424.1L505.4 423.6L505.6 423.1L505.8 425.6L506.1 426.2L506.3 426.3L506.5 426.7L506.7 425.5L507.0 424.6L507.2 426.8L507.4 426.5L507.6 425.7L507.8 426.5L508.1 426.2L508.3 427.0L508.5 426.6L508.7 426.3L509.0 427.1L509.2 426.0L509.4 426.2L509.6 426.8L509.8 426.9L510.1 427.2L510.3 425.7L510.5 426.2L510.7 426.2L511.0 426.1L511.2 426.7L511.4 424.5L511.6 426.9L511.8 424.0L512.1 424.7L512.3 422.8L512.5 420.3L512.7 415.3L513.0 421.8L513.2 416.8L513.4 416.7L513.6 417.1L513.8 417.8L514.1 409.1L514.3 407.7L514.5 403.0L514.7 401.5L515.0 418.4L515.2 416.7L515.4 406.5L515.6 415.6L515.8 423.9L516.1 427.1L516.3 411.1L516.5 418.0L516.7 413.1L517.0 420.0L517.2 409.6L517.4 390.6L517.6 405.2L517.9 400.5L518.1 402.0L518.3 405.6L518.5 402.2L518.7 397.9L519.0 382.8L519.2 374.4L519.4 377.7L519.6 394.9L519.9 383.8L520.1 383.8L520.3 385.3L520.5 396.9L520.7 353.8L521.0 377.6L521.2 374.7L521.4 374.9L521.6 377.0L521.9 385.4L522.1 389.9L522.3 391.9L522.5 391.4L522.7 398.9L523.0 405.7L523.2 394.7L523.4 401.2L523.6 392.6L523.9 397.6L524.1 392.3L524.3 390.8L524.5 388.3L524.7 387.3L525.0 401.4L525.2 408.4L525.4 406.1L525.6 408.4L525.9 402.1L526.1 406.8L526.3 385.8L526.5 404.1L526.7 406.4L527.0 406.8L527.2 408.9L527.4 410.1L527.6 395.3L527.9 378.8L528.1 392.9L528.3 411.3L528.5 396.9L528.7 394.3L529.0 373.4L529.2 385.5L529.4 386.2L529.6 417.0L529.9 387.7L530.1 398.9L530.3 408.7L530.5 416.4L530.7 398.3L531.0 405.6L531.2 399.2L531.4 385.8L531.6 377.2L531.9 384.7L532.1 387.1L532.3 389.6L532.5 407.8L532.7 408.9L533.0 380.1L533.2 385.6L533.4 379.9L533.6 381.2L533.9 379.6L534.1 380.0L534.3 383.1L534.5 398.0L534.7 387.2L535.0 387.0L535.2 388.2L535.4 387.2L535.6 397.9L535.9 397.9L536.1 399.2L536.3 413.0L536.5 416.5L536.7 412.9L537.0 419.2L537.2 411.3L537.4 401.5L537.6 402.8L537.9 401.0L538.1 414.9L538.3 410.1L538.5 402.2L538.7 399.8L539.0 396.5L539.2 400.1L539.4 393.7L539.6 395.6L539.9 395.2L540.1 395.6L540.3 402.9L540.5 411.4L540.7 405.2L541.0 413.1L541.2 413.9L541.4 406.0L541.6 412.6L541.9 415.1L542.1 416.8L542.3 417.1L542.5 404.7L542.7 402.8L543.0 400.0L543.2 413.2L543.4 418.2L543.6 418.1L543.9 411.6L544.1 403.3L544.3 415.1L544.5 417.7L544.7 417.4L545.0 409.4L545.2 406.1L545.4 403.0L545.6 410.6L545.9 408.7L546.1 409.9L546.3 402.1L546.5 418.9L546.7 415.7L547.0 406.3L547.2 398.5L547.4 398.0L547.6 402.3L547.9 409.9L548.1 403.2L548.3 414.9L548.5 404.9L548.7 401.8L549.0 404.8L549.2 415.7L549.4 410.7L549.6 414.4L549.9 417.3L550.1 415.0L550.3 412.1L550.5 411.3L550.7 406.9L551.0 416.1L551.2 411.5L551.4 402.6L551.6 405.8L551.9 410.3L552.1 411.2L552.3 405.0L552.5 408.3L552.7 413.1L553.0 417.4L553.2 410.5L553.4 404.8L553.6 407.4L553.9 403.0L554.1 407.0L554.3 406.4L554.5 414.4L554.7 416.6L555.0 415.6L555.2 413.5L555.4 410.7L555.6 415.1L555.9 416.0L556.1 415.5L556.3 415.6L556.5 415.6L556.7 411.8L557.0 407.8L557.2 416.6L557.4 410.6L557.6 411.1L557.9 410.8L558.1 410.5L558.3 408.1L558.5 407.6L558.7 416.0L559.0 411.8L559.2 416.7L559.4 414.7L559.6 413.7L559.9 418.2L560.1 416.9L560.3 416.7L560.5 417.7L560.7 408.5L561.0 410.0L561.2 413.6L561.4 407.1L561.6 409.6L561.9 412.2L562.1 419.2L562.3 416.2L562.5 411.2L562.7 406.3L563.0 413.0L563.2 409.4L563.4 407.2L563.6 407.9L563.9 410.5L564.1 418.7L564.3 417.5L564.5 418.7L564.7 421.4L565.0 419.0L565.2 418.8L565.4 419.1L565.6 411.5L565.9 416.1L566.1 421.9L566.3 423.1L566.5 421.8L566.7 421.4L567.0 422.1L567.2 423.6L567.4 423.6L567.6 423.8L567.9 412.4L568.1 423.5L568.3 423.8L568.5 423.2L568.7 423.7L569.0 422.6L569.2 425.0L569.4 425.0L569.6 423.1L569.9 422.1L570.1 423.6L570.3 423.2L570.5 423.5L570.7 423.3L571.0 418.7L571.2 421.4L571.4 420.7L571.6 422.8L571.9 423.5L572.1 424.5L572.3 424.4L572.5 424.0L572.7 423.6L573.0 422.8L573.2 422.2L573.4 420.0L573.6 421.4L573.9 417.0L574.1 416.8L574.3 415.1L574.5 417.1L574.7 415.5L575.0 417.1L575.2 423.2L575.4 422.8L575.6 422.9L575.9 424.7L576.1 425.0L576.3 425.0L576.5 424.9L576.7 420.4L577.0 418.7L577.2 419.2L577.4 419.5L577.6 420.1L577.9 424.1L578.1 422.1L578.3 424.7L578.5 424.1L578.7 424.6L579.0 423.1L579.2 422.8L579.4 423.1L579.6 422.7L579.9 423.3L580.1 423.1L580.3 422.4L580.5 422.7L580.8 423.2L581.0 425.2L581.2 425.9L581.4 425.6L581.6 424.5L581.9 423.9L582.1 424.4L582.3 424.4L582.5 426.7L582.8 422.5L583.0 422.5L583.2 421.9L583.4 421.3L583.6 420.6L583.9 422.2L584.1 423.9L584.3 423.1L584.5 422.1L584.8 419.2L585.0 425.0L585.2 424.0L585.4 422.9L585.6 424.3L585.9 424.0L586.1 419.6L586.3 418.4L586.5 420.3L586.8 419.8L587.0 421.2L587.2 416.3L587.4 418.6L587.6 414.2L587.9 419.9L588.1 420.6L588.3 424.2L588.5 423.6L588.8 419.0L589.0 423.6L589.2 423.6L589.4 422.4L589.6 423.0L589.9 418.0L590.1 423.9L590.3 419.2L590.5 412.5L590.8 409.5L591.0 412.6L591.2 420.6L591.4 425.1L591.6 421.9L591.9 416.6L592.1 415.8L592.3 413.5L592.5 409.2L592.8 413.4L593.0 421.9L593.2 424.7L593.4 424.2L593.6 424.2L593.9 425.9L594.1 422.7L594.3 420.7L594.5 409.0L594.8 404.7L595.0 392.9L595.2 403.6L595.4 404.9L595.6 405.3L595.9 397.5L596.1 373.4L596.3 375.9L596.5 382.6L596.8 382.6L597.0 384.5L597.2 378.5L597.4 381.5L597.6 390.6L597.9 399.8L598.1 393.9L598.3 383.4L598.5 383.6L598.8 370.4L599.0 393.0L599.2 393.0L599.4 397.5L599.6 387.0L599.9 378.3L600.1 382.9L600.3 389.6L600.5 375.9L600.8 387.0L601.0 373.5L601.2 376.0L601.4 377.8L601.6 372.7L601.9 394.8L602.1 381.5L602.3 383.5L602.5 384.0L602.8 381.2L603.0 403.4L603.2 403.6L603.4 395.7L603.6 371.8L603.9 379.9L604.1 409.1L604.3 372.5L604.5 372.2L604.8 382.6L605.0 379.4L605.2 390.0L605.4 399.9L605.6 383.1L605.9 391.4L606.1 394.7L606.3 384.9L606.5 393.8L606.8 401.7L607.0 394.8L607.2 388.9L607.4 409.3L607.6 389.8L607.9 382.3L608.1 378.6L608.3 385.3L608.5 387.4L608.8 368.9L609.0 377.9L609.2 401.7L609.4 391.2L609.6 397.9L609.9 400.1L610.1 389.5L610.3 393.0L610.5 393.7L610.8 399.5L611.0 400.7L611.2 401.4" fill="none" stroke="#636efa" stroke-width="0.9" stroke-linejoin="round"/>
<g font-size="12.0" fill="#3a4c6a"><text x="43.3" y="434.22" text-anchor="end">0</text><text x="43.3" y="412.97" text-anchor="end">100</text><text x="43.3" y="391.72" text-anchor="end">200</text><text x="43.3" y="370.47" text-anchor="end">300</text><text x="43.3" y="349.22" text-anchor="end">400</text><text x="43.3" y="327.97" text-anchor="end">500</text><text x="43.3" y="306.72" text-anchor="end">600</text><text x="43.3" y="285.47" text-anchor="end">700</text><text x="43.10" y="450.7" text-anchor="middle">2016</text><text x="124.45" y="450.7" text-anchor="middle">2017</text><text x="205.57" y="450.7" text-anchor="middle">2018</text><text x="286.70" y="450.7" text-anchor="middle">2019</text><text x="367.82" y="450.7" text-anchor="middle">2020</text><text x="449.17" y="450.7" text-anchor="middle">2021</text><text x="530.30" y="450.7" text-anchor="middle">2022</text></g>
<text x="161.1" y="255.4" font-size="13.95" fill="#2a3f5f">Mean PM2.5 Levels from 2016 to 2022 in Delhi</text>
<text x="327.8" y="469.6" font-size="14.1" fill="#2a3f5f" text-anchor="middle">Date</text>
<text transform="translate(12.0 365.1) rotate(-90)" font-size="13.7" fill="#2a3f5f" text-anchor="middle">Mean PM2.5 (µg/m³)</text>
<text x="320.4" y="500.0" font-size="21.9" font-family="'Liberation Serif', serif" fill="#000" text-anchor="middle">(b)</text>
<rect x="41.8" y="543.1" width="559.00" height="221.70" fill="#e5ecf6"/>
<path d="M41.80 543.1V764.8M121.84 543.1V764.8M201.67 543.1V764.8M281.50 543.1V764.8M361.32 543.1V764.8M441.37 543.1V764.8M521.19 543.1V764.8M41.8 752.60H600.8M41.8 728.23H600.8M41.8 703.85H600.8M41.8 679.48H600.8M41.8 655.10H600.8M41.8 630.73H600.8M41.8 606.35H600.8M41.8 581.98H600.8M41.8 557.60H600.8" stroke="#fff" stroke-opacity="0.5" stroke-width="1" fill="none"/>
<path d="M41.8 694.1L42.0 693.1L42.2 703.9L42.5 718.1L42.7 722.3L42.9 660.5L43.1 728.2L43.3 708.2L43.5 727.1L43.8 735.0L44.0 724.9L44.2 719.9L44.4 721.1L44.6 734.9L44.9 731.1L45.1 751.1L45.3 737.6L45.5 736.9L45.7 745.8L46.0 746.1L46.2 740.6L46.4 744.0L46.6 745.7L46.8 737.1L47.0 730.3L47.3 730.6L47.5 747.5L47.7 710.3L47.9 739.5L48.1 733.2L48.4 744.5L48.6 742.6L48.8 744.8L49.0 745.0L49.2 727.4L49.5 656.1L49.7 734.3L49.9 751.1L50.1 732.5L50.3 732.9L50.5 731.0L50.8 730.5L51.0 741.6L51.2 737.0L51.4 722.6L51.6 740.4L51.9 730.1L52.1 730.6L52.3 736.9L52.5 719.8L52.7 719.2L53.0 735.0L53.2 733.6L53.4 726.9L53.6 731.8L53.8 724.0L54.0 728.6L54.3 740.7L54.5 712.1L54.7 727.6L54.9 690.2L55.1 734.4L55.4 733.1L55.6 738.7L55.8 738.9L56.0 737.4L56.2 726.7L56.5 714.6L56.7 736.0L56.9 738.4L57.1 732.5L57.3 741.0L57.5 739.9L57.8 737.8L58.0 722.1L58.2 717.6L58.4 728.8L58.6 734.2L58.9 735.0L59.1 715.2L59.3 728.5L59.5 733.8L59.7 728.8L60.0 732.6L60.2 734.1L60.4 738.8L60.6 736.6L60.8 737.2L61.0 722.4L61.3 718.2L61.5 724.7L61.7 719.1L61.9 702.9L62.1 716.9L62.4 723.6L62.6 719.6L62.8 737.0L63.0 733.5L63.2 740.4L63.5 742.4L63.7 740.9L63.9 741.0L64.1 737.6L64.3 711.5L64.5 731.2L64.8 702.9L65.0 733.6L65.2 726.4L65.4 732.1L65.6 734.0L65.9 723.9L66.1 720.5L66.3 736.0L66.5 735.1L66.7 734.0L67.0 738.6L67.2 736.0L67.4 740.1L67.6 672.6L67.8 735.2L68.0 737.4L68.3 740.7L68.5 740.4L68.7 745.7L68.9 745.9L69.1 742.6L69.4 746.2L69.6 741.5L69.8 745.5L70.0 740.6L70.2 743.1L70.4 738.0L70.7 737.7L70.9 744.1L71.1 729.9L71.3 732.1L71.5 734.8L71.8 737.9L72.0 739.2L72.2 742.9L72.4 736.3L72.6 740.0L72.9 744.1L73.1 742.5L73.3 743.3L73.5 745.2L73.7 737.9L73.9 739.1L74.2 734.5L74.4 736.3L74.6 740.6L74.8 741.2L75.0 742.4L75.3 740.9L75.5 741.6L75.7 741.6L75.9 744.9L76.1 744.9L76.4 735.6L76.6 740.2L76.8 743.6L77.0 740.4L77.2 733.5L77.4 742.1L77.7 741.6L77.9 742.8L78.1 745.8L78.3 741.2L78.5 740.3L78.8 739.4L79.0 742.2L79.2 738.9L79.4 741.2L79.6 740.8L79.9 743.9L80.1 745.3L80.3 737.7L80.5 740.5L80.7 738.5L80.9 738.9L81.2 729.4L81.4 742.0L81.6 737.8L81.8 739.7L82.0 740.0L82.3 739.4L82.5 733.9L82.7 733.3L82.9 731.7L83.1 738.8L83.4 744.0L83.6 737.9L83.8 734.0L84.0 736.7L84.2 735.2L84.4 718.0L84.7 732.6L84.9 731.9L85.1 736.5L85.3 731.8L85.5 740.1L85.8 735.5L86.0 734.8L86.2 733.0L86.4 730.4L86.6 730.1L86.9 736.6L87.1 744.2L87.3 738.8L87.5 742.9L87.7 741.3L87.9 736.3L88.2 744.0L88.4 746.4L88.6 743.8L88.8 741.7L89.0 741.5L89.3 740.2L89.5 743.0L89.7 745.5L89.9 743.8L90.1 744.8L90.4 746.2L90.6 742.6L90.8 741.3L91.0 738.5L91.2 742.7L91.4 743.4L91.7 744.7L91.9 745.0L92.1 742.2L92.3 743.6L92.5 740.3L92.8 738.1L93.0 731.2L93.2 739.9L93.4 735.3L93.6 737.3L93.9 738.1L94.1 744.0L94.3 743.5L94.5 738.5L94.7 739.1L94.9 738.6L95.2 740.0L95.4 734.3L95.6 736.3L95.8 745.2L96.0 744.9L96.3 746.5L96.5 747.1L96.7 746.7L96.9 740.8L97.1 739.8L97.4 743.7L97.6 744.7L97.8 737.8L98.0 737.5L98.2 737.9L98.4 738.7L98.7 738.6L98.9 734.9L99.1 734.2L99.3 735.2L99.5 741.5L99.8 738.1L100.0 741.4L100.2 735.3L100.4 742.4L100.6 741.5L100.8 740.4L101.1 744.4L101.3 734.7L101.5 731.5L101.7 736.0L101.9 733.9L102.2 732.7L102.4 744.6L102.6 739.6L102.8 736.4L103.0 732.6L103.3 738.4L103.5 735.6L103.7 732.5L103.9 715.8L104.1 713.0L104.3 714.3L104.6 693.7L104.8 709.0L105.0 718.1L105.2 734.4L105.4 697.9L105.7 675.9L105.9 663.8L106.1 662.0L106.3 676.5L106.5 683.1L106.8 703.5L107.0 711.3L107.2 709.8L107.4 663.0L107.6 665.8L107.8 638.0L108.1 713.3L108.3 721.3L108.5 670.6L108.7 671.4L108.9 685.3L109.2 709.6L109.4 726.5L109.6 721.4L109.8 692.6L110.0 713.7L110.3 716.6L110.5 718.1L110.7 714.1L110.9 733.2L111.1 728.6L111.3 732.2L111.6 710.5L111.8 724.2L112.0 706.7L112.2 660.7L112.4 690.7L112.7 717.0L112.9 710.8L113.1 711.1L113.3 642.8L113.5 736.9L113.8 653.6L114.0 680.6L114.2 700.5L114.4 724.4L114.6 712.5L114.8 729.7L115.1 734.4L115.3 699.5L115.5 722.1L115.7 686.4L115.9 625.4L116.2 669.0L116.4 670.2L116.6 649.0L116.8 671.3L117.0 709.0L117.3 729.7L117.5 722.8L117.7 677.1L117.9 666.8L118.1 715.9L118.3 726.2L118.6 727.3L118.8 719.3L119.0 648.3L119.2 716.1L119.4 706.2L119.7 719.2L119.9 736.6L120.1 713.4L120.3 719.0L120.5 703.0L120.8 670.0L121.0 677.1L121.2 692.7L121.4 730.3L121.6 723.2L121.8 735.3L122.1 736.7L122.3 726.8L122.5 713.8L122.7 721.4L122.9 734.2L123.2 732.6L123.4 733.4L123.6 725.7L123.8 699.0L124.0 706.3L124.3 726.2L124.5 733.7L124.7 731.6L124.9 734.2L125.1 735.6L125.3 732.6L125.6 736.3L125.8 726.8L126.0 718.8L126.2 716.8L126.4 726.8L126.7 725.2L126.9 729.9L127.1 733.8L127.3 735.1L127.5 738.5L127.7 739.7L128.0 736.4L128.2 736.3L128.4 735.0L128.6 675.6L128.8 738.1L129.1 738.6L129.3 736.5L129.5 734.1L129.7 735.5L129.9 729.2L130.2 729.9L130.4 736.9L130.6 738.3L130.8 733.7L131.0 730.5L131.2 738.7L131.5 730.4L131.7 727.6L131.9 722.7L132.1 728.8L132.3 733.0L132.6 737.2L132.8 721.1L133.0 726.2L133.2 720.5L133.4 729.2L133.7 729.8L133.9 738.3L134.1 737.7L134.3 730.8L134.5 665.3L134.7 729.8L135.0 729.0L135.2 736.6L135.4 737.3L135.6 737.5L135.8 736.3L136.1 737.3L136.3 738.7L136.5 738.0L136.7 739.5L136.9 740.5L137.2 738.8L137.4 733.1L137.6 739.3L137.8 737.7L138.0 726.3L138.2 739.9L138.5 735.3L138.7 737.2L138.9 726.5L139.1 735.9L139.3 732.9L139.6 735.8L139.8 738.4L140.0 734.5L140.2 736.2L140.4 731.4L140.7 733.9L140.9 739.2L141.1 738.3L141.3 737.3L141.5 730.1L141.7 738.1L142.0 737.6L142.2 741.5L142.4 738.0L142.6 740.6L142.8 742.4L143.1 741.0L143.3 733.9L143.5 740.8L143.7 741.7L143.9 680.5L144.2 742.2L144.4 738.9L144.6 740.4L144.8 740.8L145.0 736.3L145.2 739.0L145.5 735.3L145.7 739.4L145.9 741.8L146.1 743.5L146.3 727.8L146.6 735.0L146.8 730.3L147.0 732.5L147.2 701.9L147.4 729.6L147.7 694.6L147.9 684.7L148.1 741.1L148.3 742.2L148.5 677.5L148.7 736.5L149.0 720.5L149.2 737.2L149.4 741.9L149.6 740.3L149.8 718.6L150.1 743.5L150.3 738.0L150.5 694.0L150.7 729.0L150.9 738.7L151.2 738.0L151.4 742.4L151.6 742.7L151.8 728.5L152.0 717.5L152.2 730.9L152.5 737.9L152.7 743.3L152.9 741.6L153.1 738.7L153.3 737.1L153.6 736.3L153.8 740.9L154.0 738.7L154.2 737.2L154.4 721.0L154.6 711.1L154.9 719.8L155.1 736.0L155.3 736.3L155.5 739.2L155.7 741.1L156.0 739.5L156.2 742.3L156.4 737.7L156.6 714.5L156.8 735.5L157.1 738.1L157.3 741.0L157.5 742.9L157.7 742.0L157.9 742.4L158.1 740.2L158.4 739.8L158.6 743.7L158.8 742.0L159.0 744.4L159.2 744.2L159.5 743.5L159.7 745.6L159.9 744.2L160.1 742.6L160.3 742.3L160.6 742.8L160.8 742.9L161.0 717.0L161.2 743.5L161.4 743.7L161.6 742.3L161.9 744.4L162.1 742.5L162.3 741.4L162.5 741.6L162.7 742.4L163.0 738.0L163.2 744.4L163.4 741.9L163.6 740.5L163.8 737.2L164.1 734.3L164.3 741.9L164.5 742.1L164.7 736.2L164.9 733.2L165.1 734.2L165.4 743.9L165.6 717.0L165.8 728.6L166.0 724.6L166.2 728.4L166.5 743.3L166.7 735.7L166.9 739.8L167.1 745.5L167.3 743.4L167.6 745.1L167.8 745.4L168.0 745.0L168.2 738.5L168.4 741.6L168.6 739.4L168.9 723.3L169.1 720.4L169.3 727.5L169.5 735.3L169.7 742.4L170.0 742.6L170.2 590.8L170.4 737.6L170.6 737.6L170.8 732.6L171.1 739.2L171.3 738.9L171.5 735.8L171.7 735.2L171.9 734.4L172.1 735.2L172.4 737.0L172.6 736.6L172.8 739.0L173.0 740.3L173.2 738.8L173.5 738.5L173.7 737.7L173.9 740.0L174.1 739.7L174.3 739.7L174.6 739.9L174.8 740.7L175.0 740.3L175.2 738.3L175.4 737.3L175.6 738.7L175.9 738.4L176.1 736.5L176.3 740.3L176.5 739.8L176.7 738.4L177.0 736.6L177.2 557.6L177.4 734.0L177.6 734.7L177.8 735.4L178.1 734.9L178.3 737.4L178.5 737.7L178.7 735.7L178.9 739.5L179.1 735.3L179.4 736.5L179.6 736.7L179.8 734.6L180.0 735.7L180.2 729.5L180.5 735.0L180.7 735.1L180.9 708.7L181.1 726.5L181.3 722.4L181.6 740.0L181.8 721.9L182.0 742.3L182.2 745.2L182.4 748.6L182.6 743.8L182.9 737.4L183.1 732.2L183.3 736.1L183.5 752.1L183.7 725.3L184.0 711.6L184.2 675.6L184.4 727.7L184.6 716.5L184.8 719.7L185.0 702.0L185.3 699.4L185.5 714.9L185.7 709.5L185.9 712.4L186.1 695.7L186.4 728.3L186.6 713.3L186.8 692.3L187.0 678.9L187.2 677.1L187.5 682.2L187.7 687.5L187.9 680.7L188.1 689.6L188.3 710.1L188.5 706.0L188.8 698.8L189.0 713.4L189.2 726.6L189.4 681.2L189.6 714.9L189.9 720.0L190.1 715.6L190.3 708.0L190.5 697.4L190.7 684.8L191.0 697.9L191.2 713.9L191.4 715.0L191.6 723.0L191.8 698.8L192.0 701.8L192.3 714.5L192.5 715.4L192.7 714.2L192.9 697.5L193.1 724.0L193.4 727.8L193.6 724.1L193.8 673.0L194.0 670.7L194.2 684.4L194.5 667.8L194.7 665.0L194.9 678.9L195.1 697.2L195.3 677.1L195.5 679.1L195.8 677.5L196.0 699.2L196.2 669.5L196.4 664.5L196.6 668.9L196.9 671.4L197.1 660.0L197.3 702.9L197.5 707.3L197.7 696.7L198.0 685.8L198.2 702.1L198.4 727.1L198.6 714.5L198.8 721.7L199.0 720.4L199.3 723.0L199.5 721.7L199.7 734.2L199.9 714.8L200.1 709.4L200.4 690.9L200.6 679.0L200.8 688.9L201.0 724.5L201.2 728.2L201.5 633.2L201.7 729.4L201.9 722.5L202.1 733.5L202.3 724.5L202.5 731.9L202.8 722.8L203.0 720.0L203.2 720.6L203.4 718.2L203.6 676.6L203.9 724.8L204.1 733.0L204.3 727.9L204.5 697.5L204.7 687.7L205.0 689.1L205.2 693.4L205.4 712.0L205.6 700.2L205.8 710.2L206.0 717.9L206.3 725.7L206.5 725.6L206.7 730.7L206.9 731.0L207.1 737.3L207.4 736.3L207.6 712.0L207.8 719.0L208.0 726.2L208.2 721.2L208.5 716.9L208.7 732.9L208.9 732.7L209.1 721.3L209.3 721.6L209.5 723.4L209.8 711.3L210.0 682.9L210.2 726.2L210.4 732.2L210.6 716.2L210.9 708.7L211.1 738.1L211.3 737.8L211.5 730.6L211.7 724.2L211.9 715.7L212.2 734.8L212.4 726.9L212.6 731.7L212.8 738.8L213.0 730.1L213.3 736.5L213.5 741.8L213.7 740.2L213.9 741.7L214.1 740.9L214.4 736.5L214.6 733.3L214.8 722.1L215.0 727.9L215.2 738.7L215.4 739.5L215.7 741.4L215.9 741.3L216.1 736.9L216.3 738.2L216.5 742.0L216.8 736.7L217.0 735.7L217.2 732.4L217.4 731.9L217.6 727.4L217.9 729.6L218.1 722.8L218.3 724.0L218.5 725.0L218.7 719.6L218.9 737.6L219.2 736.5L219.4 736.3L219.6 733.8L219.8 739.6L220.0 687.8L220.3 728.3L220.5 737.4L220.7 741.4L220.9 739.6L221.1 737.2L221.4 738.5L221.6 735.5L221.8 737.3L222.0 731.8L222.2 735.9L222.4 734.3L222.7 725.2L222.9 715.5L223.1 725.8L223.3 732.0L223.5 736.5L223.8 728.4L224.0 736.8L224.2 736.9L224.4 734.4L224.6 741.8L224.9 739.5L225.1 738.4L225.3 742.0L225.5 742.2L225.7 740.5L225.9 704.8L226.2 734.6L226.4 740.7L226.6 739.1L226.8 730.1L227.0 724.3L227.3 727.3L227.5 734.6L227.7 736.9L227.9 732.6L228.1 738.1L228.4 738.8L228.6 723.6L228.8 723.9L229.0 716.8L229.2 726.0L229.4 719.1L229.7 729.1L229.9 730.3L230.1 712.7L230.3 713.7L230.5 722.9L230.8 726.5L231.0 724.5L231.2 716.7L231.4 726.0L231.6 738.7L231.9 736.7L232.1 733.5L232.3 730.9L232.5 709.7L232.7 720.1L232.9 717.4L233.2 731.8L233.4 722.7L233.6 712.5L233.8 713.6L234.0 717.0L234.3 720.9L234.5 714.1L234.7 741.7L234.9 729.7L235.1 726.1L235.4 722.3L235.6 730.1L235.8 728.2L236.0 732.3L236.2 731.4L236.4 732.9L236.7 739.0L236.9 736.8L237.1 729.2L237.3 737.2L237.5 737.1L237.8 731.6L238.0 738.8L238.2 736.2L238.4 740.5L238.6 732.0L238.8 723.7L239.1 723.2L239.3 727.0L239.5 727.5L239.7 730.5L239.9 732.8L240.2 727.8L240.4 738.1L240.6 731.7L240.8 734.2L241.0 728.5L241.3 730.7L241.5 737.3L241.7 735.5L241.9 725.4L242.1 733.8L242.3 732.4L242.6 737.4L242.8 743.7L243.0 738.3L243.2 733.7L243.4 734.3L243.7 741.8L243.9 730.2L244.1 735.7L244.3 739.5L244.5 739.2L244.8 731.7L245.0 740.6L245.2 732.8L245.4 738.1L245.6 741.7L245.8 733.5L246.1 735.6L246.3 741.5L246.5 741.0L246.7 734.7L246.9 729.4L247.2 734.9L247.4 733.4L247.6 731.0L247.8 737.3L248.0 735.0L248.3 736.1L248.5 738.9L248.7 740.0L248.9 738.5L249.1 737.7L249.3 739.7L249.6 740.2L249.8 732.9L250.0 733.4L250.2 730.2L250.4 727.9L250.7 728.7L250.9 725.7L251.1 731.6L251.3 729.8L251.5 734.5L251.8 727.4L252.0 726.0L252.2 738.7L252.4 741.5L252.6 736.9L252.8 732.2L253.1 730.4L253.3 733.5L253.5 732.4L253.7 730.8L253.9 733.8L254.2 729.8L254.4 742.5L254.6 737.9L254.8 741.4L255.0 735.0L255.3 737.2L255.5 740.7L255.7 737.6L255.9 740.9L256.1 742.3L256.3 744.0L256.6 741.9L256.8 738.0L257.0 731.7L257.2 734.8L257.4 730.1L257.7 732.8L257.9 735.2L258.1 732.6L258.3 729.2L258.5 734.1L258.8 736.9L259.0 737.7L259.2 737.0L259.4 740.6L259.6 733.7L259.8 737.5L260.1 732.8L260.3 734.3L260.5 725.1L260.7 715.0L260.9 717.6L261.2 684.3L261.4 681.1L261.6 663.2L261.8 655.8L262.0 674.6L262.3 691.3L262.5 679.9L262.7 683.1L262.9 685.2L263.1 694.1L263.3 719.8L263.6 712.9L263.8 725.6L264.0 712.4L264.2 714.6L264.4 715.6L264.7 709.6L264.9 696.6L265.1 716.8L265.3 724.4L265.5 723.9L265.7 727.0L266.0 725.4L266.2 690.1L266.4 709.7L266.6 688.6L266.8 639.5L267.1 699.1L267.3 701.4L267.5 697.7L267.7 680.5L267.9 650.7L268.2 660.3L268.4 669.1L268.6 700.5L268.8 681.5L269.0 691.0L269.2 669.2L269.5 678.7L269.7 649.4L269.9 643.4L270.1 705.8L270.3 676.6L270.6 731.7L270.8 706.9L271.0 704.6L271.2 721.6L271.4 707.2L271.7 647.7L271.9 645.0L272.1 683.9L272.3 706.2L272.5 707.0L272.7 672.5L273.0 699.7L273.2 709.8L273.4 676.9L273.6 660.2L273.8 680.2L274.1 710.5L274.3 727.3L274.5 724.8L274.7 735.0L274.9 711.4L275.2 714.7L275.4 638.0L275.6 647.4L275.8 643.3L276.0 684.1L276.2 662.7L276.5 649.1L276.7 680.6L276.9 707.6L277.1 700.8L277.3 725.9L277.6 674.0L277.8 728.7L278.0 729.8L278.2 720.6L278.4 712.1L278.7 696.5L278.9 683.8L279.1 690.2L279.3 659.6L279.5 633.2L279.7 707.6L280.0 714.5L280.2 699.1L280.4 686.7L280.6 709.4L280.8 714.0L281.1 680.7L281.3 673.4L281.5 697.0L281.7 647.1L281.9 636.5L282.2 675.5L282.4 671.9L282.6 638.7L282.8 641.8L283.0 651.5L283.2 670.2L283.5 692.2L283.7 696.2L283.9 622.4L284.1 680.8L284.3 695.5L284.6 704.7L284.8 723.2L285.0 712.9L285.2 722.1L285.4 715.1L285.7 720.2L285.9 682.4L286.1 679.5L286.3 681.3L286.5 688.3L286.7 696.6L287.0 705.4L287.2 688.4L287.4 715.4L287.6 683.1L287.8 690.0L288.1 710.0L288.3 715.4L288.5 721.2L288.7 709.8L288.9 661.4L289.2 688.7L289.4 709.9L289.6 735.4L289.8 732.8L290.0 738.0L290.2 730.0L290.5 699.3L290.7 687.4L290.9 719.3L291.1 724.5L291.3 682.7L291.6 686.3L291.8 694.6L292.0 682.1L292.2 682.5L292.4 671.6L292.7 679.9L292.9 686.0L293.1 687.0L293.3 709.0L293.5 726.0L293.7 720.6L294.0 729.4L294.2 724.9L294.4 720.7L294.6 686.5L294.8 712.2L295.1 718.7L295.3 722.4L295.5 714.8L295.7 701.1L295.9 720.2L296.1 730.7L296.4 737.7L296.6 738.0L296.8 732.0L297.0 730.9L297.2 735.5L297.5 734.8L297.7 732.3L297.9 725.0L298.1 732.0L298.3 732.2L298.6 738.5L298.8 738.9L299.0 722.3L299.2 738.3L299.4 736.6L299.6 732.6L299.9 733.2L300.1 690.7L300.3 733.3L300.5 731.6L300.7 731.0L301.0 738.4L301.2 735.9L301.4 737.0L301.6 736.5L301.8 732.4L302.1 722.5L302.3 709.6L302.5 727.2L302.7 711.2L302.9 701.9L303.1 698.5L303.4 695.4L303.6 706.7L303.8 718.9L304.0 708.4L304.2 733.7L304.5 730.5L304.7 733.2L304.9 733.6L305.1 739.2L305.3 739.1L305.6 736.0L305.8 723.6L306.0 706.2L306.2 717.2L306.4 726.7L306.6 734.1L306.9 729.3L307.1 731.0L307.3 718.4L307.5 693.1L307.7 705.6L308.0 735.1L308.2 737.4L308.4 740.3L308.6 740.8L308.8 729.3L309.1 679.5L309.3 737.8L309.5 730.0L309.7 701.6L309.9 721.5L310.1 732.9L310.4 733.6L310.6 729.6L310.8 713.9L311.0 696.5L311.2 690.1L311.5 687.9L311.7 685.9L311.9 689.9L312.1 731.9L312.3 731.6L312.6 725.9L312.8 731.5L313.0 711.5L313.2 742.3L313.4 735.3L313.6 707.4L313.9 703.1L314.1 709.1L314.3 699.7L314.5 694.2L314.7 700.8L315.0 739.2L315.2 738.9L315.4 737.7L315.6 739.3L315.8 734.4L316.1 683.9L316.3 729.6L316.5 736.8L316.7 701.2L316.9 721.9L317.1 736.4L317.4 732.3L317.6 725.3L317.8 734.5L318.0 722.0L318.2 733.0L318.5 737.9L318.7 734.8L318.9 724.0L319.1 735.2L319.3 731.5L319.6 734.2L319.8 711.6L320.0 725.2L320.2 718.7L320.4 726.2L320.6 732.3L320.9 728.7L321.1 743.3L321.3 726.0L321.5 729.6L321.7 737.2L322.0 740.3L322.2 737.6L322.4 735.4L322.6 731.8L322.8 732.9L323.0 731.7L323.3 730.5L323.5 732.5L323.7 740.9L323.9 743.1L324.1 744.2L324.4 737.3L324.6 741.0L324.8 734.8L325.0 734.1L325.2 730.9L325.5 730.9L325.7 733.8L325.9 736.8L326.1 732.4L326.3 744.7L326.5 740.0L326.8 739.7L327.0 732.6L327.2 741.6L327.4 730.5L327.6 741.9L327.9 740.0L328.1 735.3L328.3 737.0L328.5 733.7L328.7 741.7L329.0 732.2L329.2 739.5L329.4 735.7L329.6 735.7L329.8 743.6L330.0 743.2L330.3 740.9L330.5 731.9L330.7 732.7L330.9 733.3L331.1 741.0L331.4 732.3L331.6 741.7L331.8 729.9L332.0 734.3L332.2 741.5L332.5 736.6L332.7 724.8L332.9 725.7L333.1 724.9L333.3 726.2L333.5 736.8L333.8 728.1L334.0 738.8L334.2 738.7L334.4 737.0L334.6 730.3L334.9 730.0L335.1 730.0L335.3 737.5L335.5 740.5L335.7 738.5L336.0 739.3L336.2 740.7L336.4 741.0L336.6 740.1L336.8 741.1L337.0 741.0L337.3 741.0L337.5 738.9L337.7 735.3L337.9 724.4L338.1 735.2L338.4 736.7L338.6 730.8L338.8 733.1L339.0 734.4L339.2 725.1L339.5 730.0L339.7 736.4L339.9 738.8L340.1 735.6L340.3 733.3L340.5 737.9L340.8 738.7L341.0 734.8L341.2 731.0L341.4 734.9L341.6 730.8L341.9 728.5L342.1 737.3L342.3 734.9L342.5 729.7L342.7 730.3L343.0 734.0L343.2 730.9L343.4 722.8L343.6 705.9L343.8 725.6L344.0 698.4L344.3 716.7L344.5 703.1L344.7 693.4L344.9 690.0L345.1 694.6L345.4 716.8L345.6 704.3L345.8 716.1L346.0 731.8L346.2 685.1L346.5 681.6L346.7 669.4L346.9 693.9L347.1 672.9L347.3 666.4L347.5 660.5L347.8 674.6L348.0 710.1L348.2 710.6L348.4 732.0L348.6 734.3L348.9 726.4L349.1 728.8L349.3 722.4L349.5 716.9L349.7 675.8L349.9 669.3L350.2 681.5L350.4 672.1L350.6 699.7L350.8 708.4L351.0 687.6L351.3 717.5L351.5 716.3L351.7 672.6L351.9 717.8L352.1 680.7L352.4 706.6L352.6 701.0L352.8 717.5L353.0 726.6L353.2 730.5L353.4 698.1L353.7 666.5L353.9 671.6L354.1 698.3L354.3 688.3L354.5 704.5L354.8 691.3L355.0 694.7L355.2 697.4L355.4 694.1L355.6 714.0L355.9 719.3L356.1 683.4L356.3 729.2L356.5 733.8L356.7 729.2L356.9 730.9L357.2 726.7L357.4 721.0L357.6 729.8L357.8 730.5L358.0 731.3L358.3 722.8L358.5 699.4L358.7 698.1L358.9 711.3L359.1 697.5L359.4 724.7L359.6 703.6L359.8 720.8L360.0 733.5L360.2 704.1L360.4 694.7L360.7 718.0L360.9 716.5L361.1 721.3L361.3 719.5L361.5 729.5L361.8 729.4L362.0 722.4L362.2 719.1L362.4 702.7L362.6 708.2L362.9 692.9L363.1 707.3L363.3 708.5L363.5 728.4L363.7 730.3L363.9 715.2L364.2 723.9L364.4 716.2L364.6 717.1L364.8 724.8L365.0 723.7L365.3 724.2L365.5 724.2L365.7 697.2L365.9 706.6L366.1 716.6L366.4 723.1L366.6 695.1L366.8 716.7L367.0 704.7L367.2 693.8L367.4 695.1L367.7 700.6L367.9 707.1L368.1 718.0L368.3 723.1L368.5 699.5L368.8 723.8L369.0 722.7L369.2 711.9L369.4 716.2L369.6 716.6L369.9 724.5L370.1 704.6L370.3 703.5L370.5 696.0L370.7 696.9L370.9 695.2L371.2 701.8L371.4 700.6L371.6 693.7L371.8 706.2L372.0 699.5L372.3 695.4L372.5 698.0L372.7 698.3L372.9 696.3L373.1 707.3L373.4 705.7L373.6 717.6L373.8 721.4L374.0 722.8L374.2 720.1L374.4 715.7L374.7 709.9L374.9 723.6L375.1 701.9L375.3 700.9L375.5 703.7L375.8 713.3L376.0 718.3L376.2 716.6L376.4 717.7L376.6 733.4L376.9 726.7L377.1 716.7L377.3 731.6L377.5 726.1L377.7 727.8L377.9 732.4L378.2 729.4L378.4 739.2L378.6 739.6L378.8 732.5L379.0 738.3L379.3 742.6L379.5 741.9L379.7 743.4L379.9 734.4L380.1 742.8L380.3 737.2L380.6 744.4L380.8 740.9L381.0 742.3L381.2 746.6L381.4 745.5L381.7 746.0L381.9 745.5L382.1 737.5L382.3 744.1L382.5 745.5L382.8 738.0L383.0 739.1L383.2 732.6L383.4 734.4L383.6 742.8L383.8 742.8L384.1 735.2L384.3 733.4L384.5 736.7L384.7 738.8L384.9 741.1L385.2 743.6L385.4 733.0L385.6 736.4L385.8 743.9L386.0 744.4L386.3 740.4L386.5 737.1L386.7 740.3L386.9 743.6L387.1 743.0L387.3 733.0L387.6 746.5L387.8 743.5L388.0 744.2L388.2 742.4L388.4 734.9L388.7 734.4L388.9 737.4L389.1 730.9L389.3 731.8L389.5 729.6L389.8 735.1L390.0 735.7L390.2 743.1L390.4 742.6L390.6 742.9L390.8 746.3L391.1 745.3L391.3 744.8L391.5 744.7L391.7 746.4L391.9 745.7L392.2 744.5L392.4 743.4L392.6 746.6L392.8 742.6L393.0 745.2L393.3 744.6L393.5 737.1L393.7 743.0L393.9 744.0L394.1 737.6L394.3 742.3L394.6 743.1L394.8 734.4L395.0 735.5L395.2 745.7L395.4 745.9L395.7 746.1L395.9 730.2L396.1 746.2L396.3 746.2L396.5 744.3L396.8 745.3L397.0 743.9L397.2 741.9L397.4 744.1L397.6 743.0L397.8 733.7L398.1 735.2L398.3 742.4L398.5 746.4L398.7 744.6L398.9 743.0L399.2 737.6L399.4 743.4L399.6 743.5L399.8 736.7L400.0 742.4L400.3 741.1L400.5 744.6L400.7 745.3L400.9 745.2L401.1 733.9L401.3 739.7L401.6 743.1L401.8 744.1L402.0 743.8L402.2 740.0L402.4 739.8L402.7 731.5L402.9 734.0L403.1 731.5L403.3 733.7L403.5 734.0L403.8 743.9L404.0 743.6L404.2 743.2L404.4 743.4L404.6 746.5L404.8 743.4L405.1 743.9L405.3 744.2L405.5 744.0L405.7 743.8L405.9 741.9L406.2 745.1L406.4 745.7L406.6 743.8L406.8 742.8L407.0 743.5L407.2 744.3L407.5 745.2L407.7 744.2L407.9 737.5L408.1 743.9L408.3 733.9L408.6 733.8L408.8 739.9L409.0 736.2L409.2 744.5L409.4 746.4L409.7 746.6L409.9 745.9L410.1 745.2L410.3 745.1L410.5 743.8L410.7 746.5L411.0 744.4L411.2 746.0L411.4 745.8L411.6 745.3L411.8 746.0L412.1 746.5L412.3 746.4L412.5 745.2L412.7 742.7L412.9 739.1L413.2 744.1L413.4 745.0L413.6 745.6L413.8 743.4L414.0 746.4L414.2 742.4L414.5 743.6L414.7 744.8L414.9 743.0L415.1 736.6L415.3 737.0L415.6 733.7L415.8 736.3L416.0 732.9L416.2 731.6L416.4 735.5L416.7 732.0L416.9 734.7L417.1 737.2L417.3 743.6L417.5 743.7L417.7 739.2L418.0 744.8L418.2 741.6L418.4 739.6L418.6 739.0L418.8 744.5L419.1 743.0L419.3 739.3L419.5 740.1L419.7 737.8L419.9 741.4L420.2 736.9L420.4 736.9L420.6 730.4L420.8 736.8L421.0 730.4L421.2 731.0L421.5 726.7L421.7 732.1L421.9 733.6L422.1 723.9L422.3 728.7L422.6 732.3L422.8 732.3L423.0 735.1L423.2 724.3L423.4 722.8L423.7 727.6L423.9 735.6L424.1 726.5L424.3 718.9L424.5 714.0L424.7 708.2L425.0 715.4L425.2 715.2L425.4 727.1L425.6 730.9L425.8 710.1L426.1 716.1L426.3 679.3L426.5 682.5L426.7 696.9L426.9 679.7L427.2 659.5L427.4 659.5L427.6 692.1L427.8 677.8L428.0 641.9L428.2 672.6L428.5 695.5L428.7 664.6L428.9 668.3L429.1 700.7L429.3 701.0L429.6 708.6L429.8 690.0L430.0 634.1L430.2 656.6L430.4 653.1L430.7 701.2L430.9 681.9L431.1 661.0L431.3 659.7L431.5 649.7L431.7 673.3L432.0 700.0L432.2 668.8L432.4 700.1L432.6 716.1L432.8 690.8L433.1 703.5L433.3 701.2L433.5 718.7L433.7 723.7L433.9 724.7L434.1 717.6L434.4 696.3L434.6 726.6L434.8 699.4L435.0 716.5L435.2 721.4L435.5 692.6L435.7 690.3L435.9 719.3L436.1 659.4L436.3 692.8L436.6 682.1L436.8 677.3L437.0 646.9L437.2 672.9L437.4 645.5L437.6 686.4L437.9 655.1L438.1 689.3L438.3 696.9L438.5 644.4L438.7 652.1L439.0 629.3L439.2 633.3L439.4 641.6L439.6 679.1L439.8 660.9L440.1 703.4L440.3 663.7L440.5 644.9L440.7 675.5L440.9 696.9L441.1 686.8L441.4 685.6L441.6 709.5L441.8 626.3L442.0 725.6L442.2 719.5L442.5 714.7L442.7 708.9L442.9 690.8L443.1 716.4L443.3 689.7L443.6 693.1L443.8 706.3L444.0 723.7L444.2 727.6L444.4 708.2L444.6 719.1L444.9 706.3L445.1 673.8L445.3 661.0L445.5 652.2L445.7 670.2L446.0 704.4L446.2 677.1L446.4 678.3L446.6 666.7L446.8 677.7L447.1 667.5L447.3 667.8L447.5 669.8L447.7 673.7L447.9 677.8L448.1 682.2L448.4 684.8L448.6 675.7L448.8 692.6L449.0 671.0L449.2 681.5L449.5 674.4L449.7 684.4L449.9 694.2L450.1 669.0L450.3 682.4L450.6 712.8L450.8 718.5L451.0 715.3L451.2 672.8L451.4 678.8L451.6 673.6L451.9 700.2L452.1 692.1L452.3 682.8L452.5 667.8L452.7 687.3L453.0 674.2L453.2 684.2L453.4 661.4L453.6 706.6L453.8 709.5L454.1 732.9L454.3 717.0L454.5 703.0L454.7 712.0L454.9 727.5L455.1 698.8L455.4 700.3L455.6 693.6L455.8 689.8L456.0 703.6L456.2 699.7L456.5 709.3L456.7 713.4L456.9 716.5L457.1 717.0L457.3 705.3L457.6 708.9L457.8 714.1L458.0 718.6L458.2 714.0L458.4 725.1L458.6 726.7L458.9 723.1L459.1 726.3L459.3 723.6L459.5 726.9L459.7 702.5L460.0 699.0L460.2 701.6L460.4 707.8L460.6 697.3L460.8 700.7L461.1 707.4L461.3 708.8L461.5 709.8L461.7 701.8L461.9 708.3L462.1 699.3L462.4 713.4L462.6 709.4L462.8 725.5L463.0 705.7L463.2 715.6L463.5 719.6L463.7 711.1L463.9 705.7L464.1 724.9L464.3 740.9L464.5 736.7L464.8 731.7L465.0 730.2L465.2 731.6L465.4 734.7L465.6 734.6L465.9 736.8L466.1 729.6L466.3 712.9L466.5 737.1L466.7 735.1L467.0 709.7L467.2 730.2L467.4 737.3L467.6 736.1L467.8 740.3L468.0 733.2L468.3 732.4L468.5 734.5L468.7 730.0L468.9 735.1L469.1 742.8L469.4 737.2L469.6 734.2L469.8 737.0L470.0 724.7L470.2 717.5L470.5 737.7L470.7 741.3L470.9 723.2L471.1 718.5L471.3 731.9L471.5 741.8L471.8 742.6L472.0 742.4L472.2 745.4L472.4 742.6L472.6 744.8L472.9 713.0L473.1 744.6L473.3 741.3L473.5 739.8L473.7 732.4L474.0 724.1L474.2 734.1L474.4 734.8L474.6 740.7L474.8 720.6L475.0 720.2L475.3 738.8L475.5 738.0L475.7 728.6L475.9 726.1L476.1 714.4L476.4 713.1L476.6 725.1L476.8 731.3L477.0 742.1L477.2 738.7L477.5 737.2L477.7 712.9L477.9 718.6L478.1 742.7L478.3 743.2L478.5 740.2L478.8 744.0L479.0 744.4L479.2 743.6L479.4 740.8L479.6 741.7L479.9 744.8L480.1 741.0L480.3 744.7L480.5 746.2L480.7 748.1L481.0 748.5L481.2 741.0L481.4 748.7L481.6 748.2L481.8 746.8L482.0 747.5L482.3 747.0L482.5 748.2L482.7 745.0L482.9 743.1L483.1 744.1L483.4 748.3L483.6 748.6L483.8 747.1L484.0 742.7L484.2 743.6L484.5 742.4L484.7 745.8L484.9 747.0L485.1 747.1L485.3 745.8L485.5 748.4L485.8 746.5L486.0 748.9L486.2 747.6L486.4 748.5L486.6 747.7L486.9 748.1L487.1 749.0L487.3 748.0L487.5 747.5L487.7 747.8L488.0 742.7L488.2 743.9L488.4 747.4L488.6 747.2L488.8 748.2L489.0 748.4L489.3 747.6L489.5 748.0L489.7 748.1L489.9 743.7L490.1 743.1L490.4 742.9L490.6 743.3L490.8 743.6L491.0 742.1L491.2 743.8L491.4 741.8L491.7 745.9L491.9 747.3L492.1 748.4L492.3 748.2L492.5 747.3L492.8 743.3L493.0 746.9L493.2 747.0L493.4 747.4L493.6 747.9L493.9 748.4L494.1 747.8L494.3 748.5L494.5 747.8L494.7 747.3L494.9 747.6L495.2 748.0L495.4 748.3L495.6 744.6L495.8 747.4L496.0 743.7L496.3 743.3L496.5 745.4L496.7 747.2L496.9 744.7L497.1 742.0L497.4 745.4L497.6 746.0L497.8 743.5L498.0 743.7L498.2 741.6L498.4 743.7L498.7 743.3L498.9 746.2L499.1 742.2L499.3 744.7L499.5 747.2L499.8 746.6L500.0 746.1L500.2 742.4L500.4 743.9L500.6 744.3L500.9 743.3L501.1 741.7L501.3 742.8L501.5 742.0L501.7 742.2L501.9 743.5L502.2 743.0L502.4 742.4L502.6 743.8L502.8 739.0L503.0 742.9L503.3 737.3L503.5 734.2L503.7 735.3L503.9 738.8L504.1 744.3L504.4 734.3L504.6 730.1L504.8 729.5L505.0 725.5L505.2 731.7L505.4 730.9L505.7 739.4L505.9 733.0L506.1 732.1L506.3 734.8L506.5 727.4L506.8 726.2L507.0 741.3L507.2 738.5L507.4 741.2L507.6 733.5L507.9 722.7L508.1 728.2L508.3 729.8L508.5 732.8L508.7 730.8L508.9 728.1L509.2 722.7L509.4 730.2L509.6 718.9L509.8 727.1L510.0 722.9L510.3 713.7L510.5 710.9L510.7 721.1L510.9 726.0L511.1 725.8L511.4 720.6L511.6 702.2L511.8 737.0L512.0 706.8L512.2 696.4L512.4 690.2L512.7 686.5L512.9 673.2L513.1 674.5L513.3 672.8L513.5 674.4L513.8 664.4L514.0 707.1L514.2 679.1L514.4 691.1L514.6 699.6L514.9 718.4L515.1 734.4L515.3 728.3L515.5 727.2L515.7 706.1L515.9 728.0L516.2 686.1L516.4 685.0L516.6 695.8L516.8 711.9L517.0 720.6L517.3 728.8L517.5 641.5L517.7 714.8L517.9 710.9L518.1 728.7L518.3 721.8L518.6 726.5L518.8 712.4L519.0 663.4L519.2 663.5L519.4 684.0L519.7 723.7L519.9 732.9L520.1 736.6L520.3 715.3L520.5 721.8L520.8 710.6L521.0 717.2L521.2 706.8L521.4 670.8L521.6 698.1L521.8 705.2L522.1 718.0L522.3 689.7L522.5 660.5L522.7 726.8L522.9 733.2L523.2 735.6L523.4 717.7L523.6 667.0L523.8 694.7L524.0 680.2L524.3 688.4L524.5 717.5L524.7 720.0L524.9 722.1L525.1 729.9L525.3 709.0L525.6 735.5L525.8 731.2L526.0 731.8L526.2 733.2L526.4 727.0L526.7 714.4L526.9 712.0L527.1 706.0L527.3 697.3L527.5 729.4L527.8 693.3L528.0 669.5L528.2 669.8L528.4 670.2L528.6 703.2L528.8 704.6L529.1 718.5L529.3 721.3L529.5 694.0L529.7 713.0L529.9 710.3L530.2 733.2L530.4 725.0L530.6 664.9L530.8 720.9L531.0 724.4L531.3 681.2L531.5 712.3L531.7 670.0L531.9 727.6L532.1 694.5L532.3 670.6L532.6 676.2L532.8 697.9L533.0 707.9L533.2 685.5L533.4 709.6L533.7 681.0L533.9 672.9L534.1 681.3L534.3 680.3L534.5 678.8L534.8 672.2L535.0 696.6L535.2 681.0L535.4 669.7L535.6 712.5L535.8 736.4L536.1 707.7L536.3 722.5L536.5 733.7L536.7 733.3L536.9 673.4L537.2 676.6L537.4 679.2L537.6 677.6L537.8 692.6L538.0 698.8L538.3 697.2L538.5 719.6L538.7 728.3L538.9 718.2L539.1 718.6L539.3 729.2L539.6 714.5L539.8 716.3L540.0 697.8L540.2 702.9L540.4 710.6L540.7 708.6L540.9 712.5L541.1 722.5L541.3 723.9L541.5 707.8L541.8 701.9L542.0 694.2L542.2 724.1L542.4 687.3L542.6 725.7L542.8 717.7L543.1 722.4L543.3 725.6L543.5 708.9L543.7 708.4L543.9 727.2L544.2 741.4L544.4 696.5L544.6 710.2L544.8 701.1L545.0 716.4L545.2 700.5L545.5 708.6L545.7 722.5L545.9 723.8L546.1 729.3L546.3 719.9L546.6 714.2L546.8 713.2L547.0 721.6L547.2 742.4L547.4 737.1L547.7 740.9L547.9 732.1L548.1 709.8L548.3 711.4L548.5 721.4L548.7 725.3L549.0 727.8L549.2 733.6L549.4 737.1L549.6 740.7L549.8 734.0L550.1 737.3L550.3 734.6L550.5 738.0L550.7 738.9L550.9 740.6L551.2 739.7L551.4 738.8L551.6 740.1L551.8 743.2L552.0 744.6L552.2 741.0L552.5 742.5L552.7 743.5L552.9 740.6L553.1 740.1L553.3 740.5L553.6 742.4L553.8 739.6L554.0 740.2L554.2 740.5L554.4 742.0L554.7 740.5L554.9 745.6L555.1 744.4L555.3 743.4L555.5 743.8L555.7 745.2L556.0 745.8L556.2 745.4L556.4 745.9L556.6 744.0L556.8 741.6L557.1 739.5L557.3 739.8L557.5 741.7L557.7 744.1L557.9 746.3L558.2 746.1L558.4 745.5L558.6 743.4L558.8 742.2L559.0 741.7L559.2 742.1L559.5 741.5L559.7 740.3L559.9 743.5L560.1 744.2L560.3 745.6L560.6 742.1L560.8 740.7L561.0 740.7L561.2 744.0L561.4 743.6L561.7 744.0L561.9 743.7L562.1 744.0L562.3 742.8L562.5 743.9L562.7 742.2L563.0 742.4L563.2 743.5L563.4 743.8L563.6 744.4L563.8 742.6L564.1 743.7L564.3 743.1L564.5 744.1L564.7 745.7L564.9 743.7L565.2 745.2L565.4 743.5L565.6 742.8L565.8 745.6L566.0 745.9L566.2 745.6L566.5 745.8L566.7 746.1L566.9 744.4L567.1 744.5L567.3 743.6L567.6 744.4L567.8 743.6L568.0 744.8L568.2 744.5L568.4 743.1L568.7 743.4L568.9 744.4L569.1 745.6L569.3 744.7L569.5 743.8L569.7 744.2L570.0 745.2L570.2 743.8L570.4 740.6L570.6 742.0L570.8 742.2L571.1 742.3L571.3 746.3L571.5 745.4L571.7 745.6L571.9 742.7L572.2 743.7L572.4 741.4L572.6 744.9L572.8 744.2L573.0 745.0L573.2 744.6L573.5 746.0L573.7 745.5L573.9 743.7L574.1 741.1L574.3 741.3L574.6 741.9L574.8 741.3L575.0 741.2L575.2 740.8L575.4 740.9L575.6 741.9L575.9 742.4L576.1 742.8L576.3 742.8L576.5 743.0L576.7 744.8L577.0 746.6L577.2 746.4L577.4 746.8L577.6 746.2L577.8 745.4L578.1 746.5L578.3 744.9L578.5 743.1L578.7 743.4L578.9 741.5L579.1 741.0L579.4 743.5L579.6 742.2L579.8 742.4L580.0 742.5L580.2 741.9L580.5 744.0L580.7 745.0L580.9 745.8L581.1 746.0L581.3 745.5L581.6 746.5L581.8 746.6L582.0 745.1L582.2 744.9L582.4 744.0L582.6 746.4L582.9 746.4L583.1 745.9L583.3 740.1L583.5 743.4L583.7 739.2L584.0 738.5L584.2 737.4L584.4 736.3L584.6 732.8L584.8 734.3L585.1 729.4L585.3 729.5L585.5 730.4L585.7 731.4L585.9 730.3L586.1 728.5L586.4 727.9L586.6 728.7L586.8 728.1L587.0 729.6L587.2 727.7L587.5 729.7L587.7 738.3L587.9 731.3L588.1 732.0L588.3 737.0L588.6 736.6L588.8 738.0L589.0 731.7L589.2 732.7L589.4 739.4L589.6 736.9L589.9 737.9L590.1 734.5L590.3 738.0L590.5 738.8L590.7 738.5L591.0 738.4L591.2 738.4L591.4 738.8L591.6 738.5L591.8 735.5L592.1 733.3L592.3 736.9L592.5 738.1L592.7 734.0L592.9 734.6L593.1 725.8L593.4 704.5L593.6 687.6L593.8 636.6L594.0 662.8L594.2 680.6L594.5 719.6L594.7 660.0L594.9 671.8L595.1 687.9L595.3 672.1L595.6 707.9L595.8 658.5L596.0 707.7L596.2 705.5L596.4 693.1L596.6 671.5L596.9 682.1L597.1 678.6L597.3 677.4L597.5 701.4L597.7 671.7L598.0 712.3L598.2 690.6L598.4 691.2L598.6 697.0L598.8 719.8L599.1 713.6L599.3 722.0L599.5 710.4L599.7 714.6L599.9 724.9L600.1 716.2L600.4 716.2L600.6 723.8L600.8 717.4" fill="none" stroke="#0000ff" stroke-width="0.7" stroke-linejoin="round"/><circle cx="177.18" cy="556.60" r="2.0" fill="#ff0000"/><circle cx="183.52" cy="752.11" r="2.1" fill="#008000"/>
<g font-size="9.4" fill="#3a4c6a"><text x="41.8" y="755.98" text-anchor="end">0</text><text x="41.8" y="731.61" text-anchor="end">50</text><text x="41.8" y="707.23" text-anchor="end">100</text><text x="41.8" y="682.86" text-anchor="end">150</text><text x="41.8" y="658.48" text-anchor="end">200</text><text x="41.8" y="634.11" text-anchor="end">250</text><text x="41.8" y="609.73" text-anchor="end">300</text><text x="41.8" y="585.36" text-anchor="end">350</text><text x="41.8" y="560.98" text-anchor="end">400</text><text x="41.80" y="774.9" text-anchor="middle">2016</text><text x="121.84" y="774.9" text-anchor="middle">2017</text><text x="201.67" y="774.9" text-anchor="middle">2018</text><text x="281.50" y="774.9" text-anchor="middle">2019</text><text x="361.32" y="774.9" text-anchor="middle">2020</text><text x="441.37" y="774.9" text-anchor="middle">2021</text><text x="521.19" y="774.9" text-anchor="middle">2022</text></g>
<text x="225.6" y="528.9" font-size="10.92" fill="#2a3f5f">Mean NOx Levels from 2016 to 2022 in Delhi</text>
<text x="321.6" y="790.1" font-size="11.1" fill="#2a3f5f" text-anchor="middle">Date</text>
<text transform="translate(16.8 654.2) rotate(-90)" font-size="11.2" fill="#2a3f5f" text-anchor="middle">Mean NOx (ppb)</text>
<text x="319.6" y="815.7" font-size="21.3" font-family="'Liberation Serif', serif" fill="#000" text-anchor="middle">(c)</text>
<g font-size="9.45" fill="#2a3f5f">
<path d="M614.2 551.4H624.2" stroke="#0000ff" stroke-width="0.9"/>
<text x="626.6" y="555.2">Mean NOx</text>
<circle cx="619" cy="564.7" r="1.7" fill="#ff0000"/>
<text x="626.6" y="568.4">Peak Value</text>
<circle cx="619" cy="578" r="1.7" fill="#008000"/>
<text x="626.6" y="581.7">Lower Value</text>
<text x="177.1" y="551.4" text-anchor="middle" font-size="9.43">2017-09-11</text>
<text x="183.7" y="761.7" text-anchor="middle" font-size="9.43">2017-10-10</text>
</g>
</svg>
</body></html>
